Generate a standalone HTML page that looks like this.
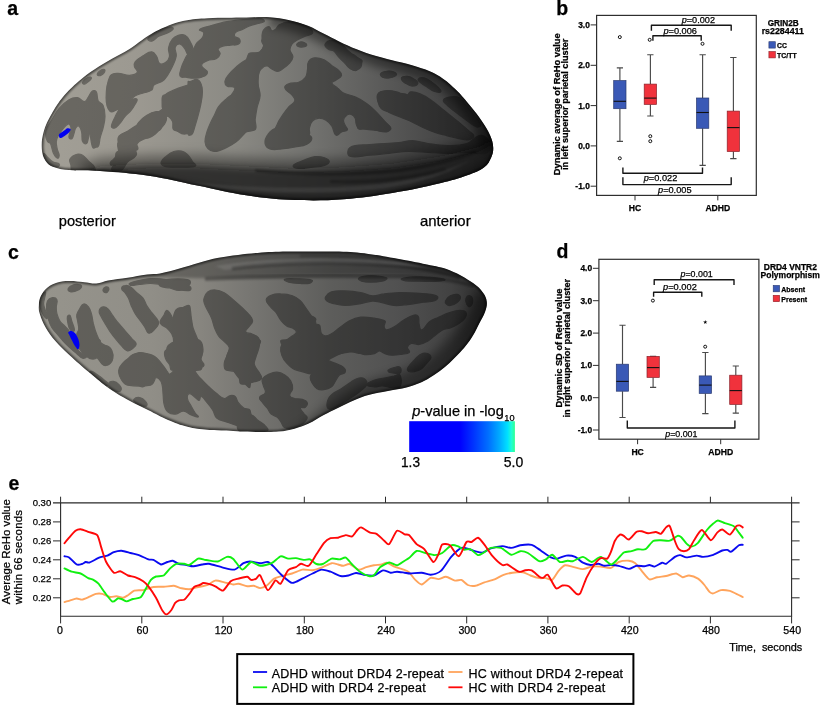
<!DOCTYPE html><html><head><meta charset="utf-8"><title>Figure</title>
<style>html,body{margin:0;padding:0;background:#fff}svg{display:block}text{font-family:"Liberation Sans", Arial, Helvetica, sans-serif;fill:#000;stroke:#000;stroke-width:0.25px}</style></head><body>
<svg width="821" height="707" viewBox="0 0 821 707">
<rect width="821" height="707" fill="#fff"/>
<defs>

<linearGradient id="cbar" x1="0" x2="1" y1="0" y2="0">
<stop offset="0" stop-color="#0000ff"/><stop offset="0.48" stop-color="#0000ff"/><stop offset="0.6" stop-color="#0030ff"/><stop offset="0.75" stop-color="#0070ff"/><stop offset="0.85" stop-color="#00a8ff"/><stop offset="0.93" stop-color="#00e0ff"/><stop offset="0.97" stop-color="#20ffd0"/><stop offset="1" stop-color="#30ff90"/>
</linearGradient>
<linearGradient id="gA" gradientUnits="userSpaceOnUse" x1="45" y1="0" x2="495" y2="0">
<stop offset="0" stop-color="#a29f96"/><stop offset="0.2" stop-color="#9c9991"/><stop offset="0.42" stop-color="#8b8a84"/><stop offset="0.6" stop-color="#71716e"/><stop offset="0.75" stop-color="#5a5a59"/><stop offset="0.88" stop-color="#464646"/><stop offset="1" stop-color="#2e2e2e"/>
</linearGradient>
<linearGradient id="gC" gradientUnits="userSpaceOnUse" x1="40" y1="0" x2="487" y2="0">
<stop offset="0" stop-color="#96948c"/><stop offset="0.25" stop-color="#908e87"/><stop offset="0.36" stop-color="#87857f"/><stop offset="0.47" stop-color="#777672"/><stop offset="0.65" stop-color="#5d5d5b"/><stop offset="0.8" stop-color="#515151"/><stop offset="0.92" stop-color="#424242"/><stop offset="1" stop-color="#292929"/>
</linearGradient>
<filter id="bl3" x="-20%" y="-20%" width="140%" height="140%"><feGaussianBlur stdDeviation="3"/></filter>
<filter id="bl6" x="-20%" y="-20%" width="140%" height="140%"><feGaussianBlur stdDeviation="6"/></filter>
<filter id="bl5" x="-20%" y="-20%" width="140%" height="140%"><feGaussianBlur stdDeviation="5"/></filter>
<filter id="bl1" x="-20%" y="-20%" width="140%" height="140%"><feGaussianBlur stdDeviation="0.8"/></filter>
<filter id="bl2" x="-20%" y="-20%" width="140%" height="140%"><feGaussianBlur stdDeviation="1.6"/></filter>

</defs>
<clipPath id="clipA"><path d="M41.8,149.0C41.4,142.5 41.9,138.3 43.6,132.0C45.6,124.9 47.8,120.7 51.4,114.3C55.3,107.3 58.0,103.0 63.1,96.8C68.4,90.3 72.4,86.7 78.7,81.2C84.3,76.3 88.2,73.6 94.3,69.5C100.8,65.1 105.1,62.7 111.9,58.8C118.5,54.9 123.0,53.1 129.5,49.0C137.2,44.2 141.2,40.0 149.0,35.3C156.1,31.0 160.9,28.8 168.5,25.6C174.2,23.2 177.9,21.9 184.0,20.7C192.8,19.0 198.5,18.7 207.5,18.2C222.3,17.4 231.6,17.6 246.4,17.4C255.4,17.3 261.0,16.6 270.0,17.2C277.1,17.6 281.6,18.4 288.5,20.0C296.0,21.7 300.8,23.0 308.0,25.8C314.1,28.2 317.6,30.6 323.5,33.6C329.4,36.6 333.1,38.6 339.1,41.4C345.7,44.5 349.9,46.5 356.7,49.2C364.0,52.1 368.7,53.8 376.2,56.0C391.9,60.6 402.2,62.1 417.8,67.0C425.6,69.5 430.6,71.1 437.7,75.3C445.0,79.6 449.1,83.2 455.2,89.0C461.7,95.1 465.1,99.6 470.8,106.5C475.5,112.2 478.4,115.9 482.5,122.1C485.8,127.1 488.0,130.3 490.3,135.8C492.1,140.0 493.0,142.9 493.2,147.4C493.4,151.2 492.8,153.7 491.3,157.2C489.5,161.3 488.1,164.2 484.5,167.0C479.0,171.2 474.5,172.6 468.0,175.0C458.0,178.7 451.4,180.5 441.0,183.0C422.6,187.4 410.9,189.9 392.3,193.0C373.9,196.1 362.2,197.9 343.6,199.2C325.2,200.5 313.5,200.7 295.0,200.0C276.3,199.3 264.5,198.0 246.0,195.3C227.4,192.6 215.9,189.3 197.4,185.6C178.9,181.9 167.4,178.6 148.7,175.8C130.3,173.0 118.5,172.3 100.0,171.0C88.2,170.1 80.7,171.0 69.0,170.0C63.0,169.5 59.0,169.2 53.4,167.0C49.9,165.7 47.6,164.1 45.6,161.0C43.0,157.0 42.1,153.8 41.8,149.0Z"/></clipPath><clipPath id="clipC"><path d="M38.8,305.9C39.0,302.2 39.1,299.6 40.7,296.2C42.5,292.4 44.2,290.1 47.5,287.4C50.7,284.7 53.3,283.7 57.3,282.5C61.6,281.2 64.5,281.0 69.0,281.0C74.9,280.9 78.7,281.7 84.6,282.2C89.1,282.6 91.8,283.8 96.3,283.5C100.9,283.2 103.5,281.4 108.0,280.6C115.4,279.2 120.1,278.9 127.5,277.7C134.9,276.5 139.5,275.4 147.0,274.4C151.9,273.8 155.1,274.3 160.0,273.4C167.5,272.0 172.1,270.5 179.5,268.5C187.0,266.5 191.5,264.7 199.0,262.7C206.4,260.7 211.0,259.3 218.5,257.8C225.8,256.3 230.6,255.8 238.0,254.9C245.4,254.0 250.0,253.4 257.4,252.9C268.5,252.1 275.6,251.9 286.7,251.6C295.6,251.4 301.1,251.6 310.0,251.6C321.1,251.6 328.1,251.2 339.2,251.6C350.4,252.0 357.4,252.5 368.5,253.9C379.7,255.3 386.6,256.8 397.7,258.8C408.9,260.8 415.9,262.1 427.0,264.6C435.9,266.6 441.8,267.1 450.3,270.5C459.6,274.3 465.2,277.6 473.5,283.3C477.8,286.3 480.2,288.7 483.3,293.0C485.4,295.9 486.4,298.2 486.8,301.8C487.2,305.5 486.4,308.0 485.2,311.5C483.6,316.2 481.6,318.8 479.4,323.2C477.0,327.9 475.7,331.0 473.0,335.5C470.6,339.5 468.9,341.9 466.0,345.5C463.2,349.1 461.2,351.2 458.0,354.5C453.7,358.9 451.0,361.7 446.4,365.8C443.0,368.8 440.7,370.4 437.0,373.0C433.3,375.6 431.0,377.2 427.0,379.4C423.3,381.4 420.9,382.5 417.0,384.0C413.4,385.4 411.1,386.3 407.4,387.2C400.1,389.0 395.4,389.5 388.0,391.0C380.6,392.5 375.8,393.0 368.5,395.0C363.2,396.4 359.9,397.8 354.8,400.0C348.1,402.9 344.0,405.0 337.4,408.2C332.2,410.7 328.9,412.3 323.8,415.0C317.8,418.2 314.4,420.9 308.2,423.8C303.2,426.1 299.9,427.3 294.6,428.7C288.8,430.3 285.0,431.0 279.0,431.6C271.6,432.3 266.9,432.0 259.5,432.0C252.1,432.0 247.4,431.9 240.0,431.6C234.8,431.4 231.6,430.9 226.4,430.6C219.0,430.2 214.3,430.4 207.0,429.7C199.5,429.0 194.7,428.5 187.4,426.7C179.8,424.8 175.2,423.0 168.0,419.9C160.4,416.7 155.9,413.9 148.5,410.2C141.1,406.5 136.3,404.4 129.0,400.4C121.4,396.2 116.6,393.7 109.5,388.7C101.7,383.3 97.3,379.2 90.0,373.1C81.9,366.3 76.8,361.9 69.0,354.7C63.6,349.7 60.1,346.6 55.3,341.0C51.2,336.2 48.7,332.9 45.6,327.4C42.8,322.5 41.4,319.1 39.7,313.7C38.8,310.9 38.6,308.9 38.8,305.9Z"/></clipPath>
<g clip-path="url(#clipA)">
<path d="M41.8,149.0C41.4,142.5 41.9,138.3 43.6,132.0C45.6,124.9 47.8,120.7 51.4,114.3C55.3,107.3 58.0,103.0 63.1,96.8C68.4,90.3 72.4,86.7 78.7,81.2C84.3,76.3 88.2,73.6 94.3,69.5C100.8,65.1 105.1,62.7 111.9,58.8C118.5,54.9 123.0,53.1 129.5,49.0C137.2,44.2 141.2,40.0 149.0,35.3C156.1,31.0 160.9,28.8 168.5,25.6C174.2,23.2 177.9,21.9 184.0,20.7C192.8,19.0 198.5,18.7 207.5,18.2C222.3,17.4 231.6,17.6 246.4,17.4C255.4,17.3 261.0,16.6 270.0,17.2C277.1,17.6 281.6,18.4 288.5,20.0C296.0,21.7 300.8,23.0 308.0,25.8C314.1,28.2 317.6,30.6 323.5,33.6C329.4,36.6 333.1,38.6 339.1,41.4C345.7,44.5 349.9,46.5 356.7,49.2C364.0,52.1 368.7,53.8 376.2,56.0C391.9,60.6 402.2,62.1 417.8,67.0C425.6,69.5 430.6,71.1 437.7,75.3C445.0,79.6 449.1,83.2 455.2,89.0C461.7,95.1 465.1,99.6 470.8,106.5C475.5,112.2 478.4,115.9 482.5,122.1C485.8,127.1 488.0,130.3 490.3,135.8C492.1,140.0 493.0,142.9 493.2,147.4C493.4,151.2 492.8,153.7 491.3,157.2C489.5,161.3 488.1,164.2 484.5,167.0C479.0,171.2 474.5,172.6 468.0,175.0C458.0,178.7 451.4,180.5 441.0,183.0C422.6,187.4 410.9,189.9 392.3,193.0C373.9,196.1 362.2,197.9 343.6,199.2C325.2,200.5 313.5,200.7 295.0,200.0C276.3,199.3 264.5,198.0 246.0,195.3C227.4,192.6 215.9,189.3 197.4,185.6C178.9,181.9 167.4,178.6 148.7,175.8C130.3,173.0 118.5,172.3 100.0,171.0C88.2,170.1 80.7,171.0 69.0,170.0C63.0,169.5 59.0,169.2 53.4,167.0C49.9,165.7 47.6,164.1 45.6,161.0C43.0,157.0 42.1,153.8 41.8,149.0Z" fill="url(#gA)"/>
<g fill="#000" stroke="#000" stroke-width="1.2" stroke-linejoin="round" opacity="0.345">
<path d="M50.5,122.1C53.6,117.2 55.3,113.2 59.2,108.5C62.4,104.6 64.7,102.2 69.0,99.7C71.9,98.0 74.4,97.3 77.7,97.7C80.7,98.1 81.7,101.9 84.6,101.6C86.9,101.4 87.1,98.7 88.5,96.8C90.0,94.6 90.3,92.2 92.4,90.9C93.7,90.1 95.5,90.6 96.3,91.9C97.8,94.5 96.7,97.6 98.2,100.7C99.4,103.0 102.0,103.1 103.1,105.5C104.7,109.3 105.0,112.1 105.0,116.3C105.0,120.8 104.1,123.6 103.1,128.0C102.2,131.7 101.1,134.0 100.2,137.7C99.3,141.0 99.8,144.4 98.2,146.5C97.3,147.7 94.9,146.9 94.3,145.5C93.0,142.6 94.4,139.3 93.3,135.8C92.8,134.0 91.7,131.3 90.4,131.9C89.1,132.4 89.2,135.5 88.5,137.7C87.7,139.9 88.1,142.5 86.5,143.5C85.1,144.5 83.3,143.1 82.6,141.6C81.3,138.5 82.5,135.5 81.6,131.9C81.0,129.4 80.3,127.0 78.7,126.0C77.6,125.3 76.5,126.8 75.8,128.0C74.6,129.9 74.7,131.6 73.9,133.8C73.2,135.7 73.2,137.6 71.9,138.7C71.0,139.4 69.3,138.8 69.0,137.7C68.5,135.9 69.6,134.1 70.0,131.9C70.3,130.0 71.4,128.8 70.9,127.0C70.5,125.5 69.5,123.6 68.0,124.1C65.7,124.8 64.2,127.5 62.2,129.9C60.4,132.0 59.5,133.4 58.3,135.8C57.2,137.8 56.5,139.3 56.3,141.6C56.1,144.6 56.7,146.5 57.3,149.4C57.8,151.7 59.2,152.9 59.2,155.2C59.2,156.6 58.6,158.6 57.3,158.2C55.7,157.6 54.4,155.4 53.4,153.3C51.8,149.8 52.0,146.7 50.5,143.5C49.9,142.4 48.1,142.8 47.5,141.6C46.2,139.0 45.6,136.9 45.6,133.8C45.6,131.1 46.5,129.5 47.5,127.0C48.4,125.0 49.3,123.9 50.5,122.1Z"/>
<path d="M82.6,82.2C83.9,80.3 86.1,78.3 88.5,77.3C89.5,76.8 91.8,77.1 91.4,78.3C90.9,79.8 88.6,81.6 86.5,83.1C85.6,83.8 84.6,84.4 83.6,84.1C82.8,83.9 82.1,82.8 82.6,82.2Z"/>
<path d="M97.2,74.4C97.5,72.8 100.0,70.5 102.1,69.5C103.2,69.0 105.2,69.3 105.0,70.5C104.8,72.0 103.2,74.3 101.1,75.3C99.8,76.0 97.0,75.9 97.2,74.4Z"/>
<path d="M70.0,159.1C71.5,156.3 73.7,155.2 76.8,154.3C78.9,153.6 80.7,154.1 82.6,155.2C85.3,156.8 86.2,158.9 88.5,161.1C90.7,163.3 92.8,164.2 94.3,166.9C95.2,168.6 96.1,171.4 94.3,171.8C88.6,173.1 79.1,173.6 72.9,171.8C70.3,171.1 71.5,167.6 70.9,165.0C70.4,162.8 68.9,161.1 70.0,159.1Z"/>
<path d="M43.6,153.3C44.4,152.8 46.0,155.8 47.5,157.2C49.7,159.1 50.9,160.6 53.4,162.1C55.4,163.2 58.2,162.7 59.2,164.0C60.1,165.1 58.6,166.8 57.3,166.9C54.7,167.2 52.1,166.6 49.5,165.0C47.0,163.5 45.9,161.7 44.6,159.1C43.6,157.1 42.9,153.8 43.6,153.3Z"/>
<path d="M139.1,124.1C143.5,121.7 146.2,120.0 150.8,118.2C155.1,116.6 158.4,115.5 162.5,115.3C164.2,115.2 166.1,115.6 166.4,117.2C166.9,119.6 166.0,121.8 164.5,124.1C162.2,127.5 160.0,129.3 156.7,131.9C153.3,134.5 150.7,135.6 146.9,137.7C144.0,139.3 141.7,139.5 139.1,141.6C137.1,143.3 135.8,144.8 135.2,147.4C134.6,150.4 137.6,152.6 136.2,155.2C134.2,159.0 130.4,159.1 127.4,162.1C124.8,164.7 124.9,168.3 121.6,170.1C118.3,171.7 113.4,172.2 111.9,170.1C110.3,167.9 114.5,165.2 115.8,162.1C117.1,158.8 118.3,156.8 118.7,153.3C119.1,149.6 117.1,147.2 117.7,143.5C118.2,140.3 119.4,138.3 121.6,135.8C124.0,132.9 126.3,132.0 129.4,129.9C133.0,127.5 135.3,126.1 139.1,124.1Z"/>
<path d="M148.0,38.3C149.8,35.4 154.3,32.9 158.7,30.5C162.2,28.6 164.6,27.7 168.5,27.2C170.4,26.9 173.3,27.1 173.3,28.5C173.3,29.9 170.6,31.3 168.5,32.4C164.9,34.3 162.2,34.4 158.7,36.3C155.9,37.8 154.8,40.7 151.9,41.2C150.1,41.5 147.0,39.8 148.0,38.3Z"/>
<path d="M135.3,61.6C137.7,58.8 139.9,57.7 143.1,55.8C146.3,54.0 148.3,51.6 151.9,51.9C154.5,52.1 155.3,54.6 156.8,56.8C158.3,59.1 157.4,62.0 159.7,63.6C161.6,64.8 163.7,63.9 165.5,62.6C167.7,61.1 168.9,59.4 169.4,56.8C170.1,53.5 167.9,51.3 168.5,48.0C169.1,44.4 170.1,42.1 172.4,39.2C174.0,37.1 175.7,36.1 178.2,35.3C180.7,34.6 182.7,34.2 185.0,35.3C187.6,36.6 188.5,38.6 189.9,41.2C191.6,44.3 193.3,46.6 192.8,50.0C192.5,52.3 190.0,54.1 188.0,53.9C185.9,53.6 186.4,50.7 185.0,49.0C183.4,46.9 182.7,44.6 180.2,44.1C178.0,43.7 176.0,45.0 175.3,47.0C174.2,50.1 176.8,52.5 176.3,55.8C175.6,60.1 174.1,62.6 172.4,66.5C170.8,70.0 169.6,72.1 167.5,75.3C165.9,77.7 165.0,79.5 162.6,81.1C159.7,83.3 156.7,82.7 153.9,85.0C152.3,86.3 153.5,88.7 151.9,89.9C149.4,91.9 147.1,91.8 144.1,92.8C140.8,94.0 138.3,93.9 135.3,95.8C132.6,97.4 131.5,99.2 129.5,101.6C127.8,103.7 127.8,106.0 125.6,107.4C123.1,109.1 120.8,108.7 117.8,109.4C114.8,110.1 112.2,113.5 110.0,111.3C106.9,108.2 106.1,103.1 106.1,97.7C106.1,89.4 106.9,82.8 110.0,76.3C111.4,73.4 114.6,73.5 117.8,73.3C122.3,73.1 125.0,75.5 129.5,75.3C132.6,75.1 136.0,74.7 137.3,72.4C138.5,70.2 134.8,69.0 134.4,66.5C134.0,64.7 134.1,63.1 135.3,61.6Z"/>
<path d="M199.7,29.5C201.7,27.7 206.8,26.9 211.3,25.6C217.2,23.9 220.9,22.8 226.9,21.7C234.3,20.4 239.0,20.0 246.4,19.4C252.3,18.9 257.3,18.1 262.0,18.8C263.3,18.9 265.1,21.0 264.0,21.7C260.8,23.5 255.4,23.7 250.3,25.6C247.2,26.7 245.5,28.1 242.5,29.5C240.0,30.7 237.8,30.6 235.7,32.4C234.6,33.4 234.0,35.0 234.7,36.3C235.8,38.1 238.6,37.3 239.6,39.2C240.4,40.9 240.2,43.1 238.6,44.1C236.3,45.7 233.8,44.7 230.8,45.1C227.9,45.5 225.9,45.2 223.0,46.1C221.0,46.7 218.9,47.0 218.2,49.0C217.5,50.8 220.5,51.9 220.1,53.9C219.6,56.2 218.3,57.6 216.2,58.7C213.2,60.3 210.5,59.2 207.4,60.7C204.8,61.9 201.6,62.7 201.6,65.5C201.6,68.7 207.4,69.2 207.4,72.4C207.4,75.3 204.3,76.1 201.6,77.2C198.9,78.4 196.8,78.2 193.8,78.2C190.8,78.2 189.0,77.7 186.0,77.2C183.8,76.9 181.3,78.2 180.2,76.3C178.9,73.9 180.4,71.4 181.1,68.5C181.9,65.4 182.7,63.5 184.1,60.7C185.3,58.0 186.1,56.2 188.0,53.9C189.5,52.0 191.3,51.8 192.8,50.0C194.7,47.6 194.9,45.5 196.7,43.1C198.6,40.6 200.9,39.9 202.6,37.3C203.6,35.7 204.2,34.2 203.5,32.4C202.9,30.7 198.3,30.7 199.7,29.5Z"/>
<path d="M164.6,95.8C166.1,92.6 170.4,91.7 174.3,89.9C179.3,87.6 182.7,86.8 188.0,85.0C191.6,83.8 194.3,81.3 197.7,82.1C200.1,82.7 200.0,85.5 200.6,88.0C201.5,91.6 202.0,94.0 201.6,97.7C201.2,101.5 199.9,103.8 198.7,107.4C197.7,110.4 196.7,112.2 195.8,115.2C194.8,118.2 194.6,120.1 193.8,123.0C193.1,125.7 194.5,129.1 191.9,130.1C186.7,131.9 179.5,132.4 174.3,130.1C171.1,128.6 174.1,124.1 172.4,121.1C170.9,118.6 169.1,115.7 166.5,116.2C163.9,116.7 163.9,120.4 162.6,123.0C161.3,125.6 162.3,128.9 159.7,130.1C155.5,131.9 149.4,132.4 147.0,130.1C144.7,127.7 149.1,124.3 150.9,121.1C152.8,117.9 154.2,115.9 156.8,113.3C159.4,110.7 162.0,110.1 164.6,107.4C166.5,105.6 168.5,104.3 168.5,101.6C168.5,98.9 163.4,98.1 164.6,95.8Z"/>
<path d="M264.0,29.5C265.5,27.6 268.7,25.5 270.0,27.5C272.6,31.7 273.7,38.3 273.7,45.1C273.7,52.6 272.6,58.9 270.0,64.6C269.0,66.8 265.9,65.1 264.0,66.5C261.6,68.2 260.0,69.6 259.1,72.4C257.7,76.6 257.9,79.6 258.1,84.1C258.3,88.6 260.3,91.3 260.1,95.8C259.9,100.3 258.1,103.0 257.1,107.4C256.2,111.9 255.8,114.7 255.2,119.1C254.7,123.3 258.2,129.0 254.2,130.1C243.6,133.0 224.9,133.0 215.2,130.1C211.1,128.8 216.5,123.1 218.2,119.1C220.2,114.4 222.5,112.0 225.0,107.4C227.4,103.1 228.6,100.2 230.8,95.8C232.3,92.8 235.8,90.6 234.7,88.0C233.7,85.4 229.4,87.8 226.9,86.0C225.3,84.9 224.7,83.1 225.0,81.1C225.5,78.2 227.0,76.6 228.9,74.3C231.5,71.0 233.5,69.3 236.7,66.5C239.5,64.1 241.3,62.6 244.5,60.7C247.3,58.9 249.4,58.4 252.3,56.8C255.3,55.1 257.6,54.4 260.1,51.9C262.2,49.8 263.6,48.0 264.0,45.1C264.4,42.1 262.0,40.3 262.0,37.3C262.0,34.2 262.0,31.9 264.0,29.5Z"/>
<path d="M250.0,53.0C253.1,52.2 256.4,53.7 259.7,52.0C262.1,50.8 263.2,48.8 263.6,46.2C264.0,43.9 261.3,42.7 261.7,40.3C262.1,37.4 263.2,35.4 265.6,33.5C268.7,31.1 272.0,31.8 275.3,29.6C277.3,28.3 277.2,25.9 279.2,24.7C282.6,22.8 285.1,22.0 289.0,21.8C293.5,21.6 296.4,22.4 300.7,23.8C304.6,25.0 307.3,26.0 310.4,28.6C311.9,29.9 313.6,31.9 312.4,33.5C310.8,35.6 307.5,35.2 304.6,36.4C301.5,37.8 299.6,38.6 296.8,40.3C294.8,41.6 293.3,42.3 291.9,44.2C290.6,46.2 289.8,47.7 290.0,50.1C290.2,52.9 293.1,54.1 292.9,56.9C292.7,59.9 290.9,61.4 289.0,63.7C287.1,65.9 285.5,67.0 283.1,68.6C281.1,70.0 279.8,71.5 277.3,71.5C274.8,71.5 273.6,69.8 271.4,68.6C268.8,67.2 267.6,64.4 264.6,64.7C262.0,64.9 260.7,67.1 259.7,69.6C258.0,73.7 258.0,76.8 257.8,81.3C257.6,85.7 259.1,88.5 258.8,93.0C258.4,97.5 257.0,100.2 255.8,104.7C254.7,109.1 254.1,111.9 252.9,116.3C251.9,120.1 252.1,124.0 250.0,126.1C248.6,127.5 245.5,126.1 245.1,124.1C243.6,115.3 244.2,104.8 244.2,93.0C244.2,82.6 244.1,75.8 245.1,65.7C245.6,61.5 246.8,58.3 248.1,55.0C248.4,54.0 249.0,53.3 250.0,53.0Z"/>
<path d="M296.8,44.2C297.6,43.1 299.0,42.1 300.7,41.9C302.6,41.7 304.0,42.2 305.5,43.3C306.4,43.8 307.2,45.1 306.5,45.8C305.5,46.8 303.6,47.1 301.6,47.2C300.1,47.2 299.0,47.0 297.7,46.2C297.0,45.8 296.3,44.9 296.8,44.2Z"/>
<path d="M325.0,44.2C326.1,41.9 328.9,40.3 331.9,40.3C335.8,40.3 338.2,42.1 341.6,44.2C344.3,45.9 345.1,47.9 347.4,50.1C350.3,52.8 352.1,54.6 355.2,56.9C357.7,58.7 361.0,58.5 362.1,60.8C362.9,62.8 360.3,63.8 359.1,65.7C358.0,67.5 358.3,70.1 356.2,70.5C353.6,71.1 351.7,69.2 349.4,67.6C346.8,65.8 345.8,64.0 343.5,61.8C341.3,59.6 339.8,58.3 337.7,55.9C336.1,54.2 335.7,52.4 333.8,51.1C331.9,49.7 329.8,50.5 328.0,49.1C326.3,47.8 324.2,46.2 325.0,44.2Z"/>
<path d="M380.6,73.5C381.6,72.0 384.1,71.7 386.4,71.5C389.4,71.3 391.9,71.5 394.2,72.5C395.3,73.0 396.1,74.6 395.2,75.4C393.6,76.8 391.1,77.4 388.4,77.8C386.1,78.0 384.5,78.1 382.5,77.0C381.2,76.2 379.7,74.7 380.6,73.5Z"/>
<path d="M402.0,77.4C403.6,76.6 407.9,77.8 410.0,79.3C411.2,80.2 411.3,82.6 410.0,83.2C408.4,84.0 405.8,83.6 404.0,82.2C402.4,81.1 400.4,78.1 402.0,77.4Z"/>
<path d="M308.5,61.8C309.8,59.5 311.7,58.2 314.3,57.9C318.1,57.4 320.6,58.3 324.1,59.8C327.4,61.3 328.9,63.5 331.9,65.7C334.4,67.6 336.4,68.3 338.7,70.5C340.2,72.1 342.2,73.3 341.6,75.4C340.8,78.0 338.0,78.5 335.8,80.3C334.3,81.4 331.4,81.4 331.9,83.2C332.4,85.3 335.5,86.2 337.7,88.1C339.9,89.9 341.0,91.7 343.5,93.0C347.7,95.1 351.0,94.9 355.2,96.9C359.9,99.0 362.8,100.7 366.9,103.7C371.0,106.6 373.2,108.9 376.7,112.4C379.8,115.6 381.5,117.9 384.5,121.2C386.7,123.8 389.8,125.2 390.3,128.0C390.7,130.1 388.5,131.7 386.4,131.9C382.3,132.5 379.2,130.8 374.7,130.0C371.0,129.3 368.8,128.3 365.0,128.0C362.7,127.9 361.2,129.9 359.1,129.0C357.2,128.1 357.0,126.2 356.2,124.1C355.4,122.0 356.2,120.3 355.2,118.3C354.3,116.4 353.3,115.1 351.3,114.4C349.6,113.8 348.0,114.2 346.5,115.4C344.7,116.7 343.7,118.1 343.5,120.2C343.3,122.6 344.6,123.9 345.5,126.1C346.1,127.6 348.4,128.6 347.4,130.0C346.4,131.5 343.7,131.0 341.6,131.9C339.3,132.9 337.9,136.4 335.8,135.1C333.2,133.5 333.9,129.2 331.9,126.1C330.1,123.5 328.7,121.8 326.0,120.2C323.4,118.7 321.3,118.1 318.2,118.3C315.7,118.5 314.0,119.4 312.4,121.2C310.5,123.3 310.2,125.3 309.4,128.0C308.7,130.6 311.1,134.5 308.5,135.1C299.4,136.9 283.7,138.0 275.3,135.1C271.4,133.7 275.8,128.1 277.3,124.1C278.8,120.1 280.7,118.0 283.1,114.4C285.2,111.3 286.6,109.4 289.0,106.6C291.0,104.2 294.1,103.8 294.8,100.8C295.4,98.3 293.5,96.8 291.9,94.9C290.1,92.7 287.8,92.3 286.1,90.0C285.1,88.8 284.2,87.4 285.1,86.1C286.4,84.3 288.5,83.9 290.9,83.2C293.8,82.4 296.0,83.3 298.7,82.2C301.7,81.1 303.7,80.0 305.5,77.4C307.3,74.9 306.9,72.6 307.5,69.6C308.0,66.6 307.0,64.4 308.5,61.8Z"/>
<path d="M378.6,93.0C380.7,90.7 383.4,91.0 386.4,91.0C390.9,91.0 393.7,91.9 398.1,93.0C402.7,94.1 408.0,92.6 410.0,96.9C413.2,103.6 412.1,113.1 410.0,118.3C408.8,121.2 405.0,117.3 402.0,116.3C398.2,115.1 395.8,114.2 392.3,112.4C388.4,110.5 385.9,109.3 382.5,106.6C380.3,104.8 378.4,103.5 377.7,100.8C376.8,97.9 376.6,95.2 378.6,93.0Z"/>
<path d="M378.3,94.8C379.8,92.2 382.1,91.4 385.1,90.9C389.5,90.2 392.4,90.9 396.8,91.9C400.7,92.8 402.9,95.8 406.5,95.8C408.6,95.8 408.3,92.2 410.4,91.9C414.1,91.4 416.7,92.4 420.2,93.9C424.9,95.8 427.6,97.8 431.9,100.7C435.8,103.3 437.9,105.5 441.6,108.5C445.3,111.4 447.6,113.3 451.3,116.3C455.0,119.2 457.4,121.0 461.1,124.1C464.1,126.6 466.0,128.2 468.9,130.9C470.8,132.7 473.8,133.4 473.8,135.8C473.8,138.1 471.2,139.2 468.9,139.7C465.2,140.4 462.8,139.3 459.1,138.7C454.6,137.9 451.9,136.9 447.4,135.8C443.0,134.6 440.1,134.3 435.8,132.8C431.2,131.3 428.4,130.0 424.1,128.0C419.5,125.9 416.9,124.2 412.4,122.1C408.0,120.1 405.1,119.1 400.7,117.2C396.2,115.4 393.4,114.3 389.0,112.4C386.0,111.0 383.6,110.7 381.2,108.5C379.3,106.8 378.8,105.1 378.3,102.6C377.6,99.7 376.8,97.4 378.3,94.8Z"/>
<path d="M357.8,101.1C360.6,99.0 364.0,104.1 367.5,106.5C371.5,109.2 373.7,111.2 377.3,114.3C380.4,117.1 382.2,119.0 385.1,122.1C387.4,124.6 391.4,126.6 390.9,128.9C390.4,131.3 386.2,130.7 383.1,130.9C379.4,131.1 377.1,130.2 373.4,129.9C368.9,129.5 365.9,129.5 361.7,128.9C360.2,128.7 358.3,129.4 357.8,128.0C356.5,124.1 357.0,119.5 357.0,114.3C357.0,109.3 355.0,103.1 357.8,101.1Z"/>
<path d="M381.2,74.4C382.2,72.8 384.6,71.9 387.0,71.4C389.6,71.0 391.4,71.1 393.9,72.0C395.2,72.5 397.2,73.7 396.4,74.9C395.3,76.5 392.6,77.2 390.0,77.7C387.4,78.1 385.5,78.2 383.1,77.3C381.9,76.8 380.4,75.5 381.2,74.4Z"/>
<path d="M401.6,78.3C402.2,76.4 405.2,76.1 407.5,76.3C410.3,76.5 412.0,77.6 414.3,79.2C416.0,80.4 418.3,81.7 417.8,83.5C417.3,85.3 414.7,86.1 412.4,86.1C409.5,86.0 407.8,84.8 405.5,83.1C403.6,81.7 401.1,80.1 401.6,78.3Z"/>
<path d="M418.2,79.2C419.0,77.8 421.8,77.4 424.1,77.9C427.4,78.6 429.1,80.2 431.9,82.2C434.7,84.1 436.4,85.5 438.7,88.0C439.8,89.2 441.9,91.0 440.6,91.9C439.3,92.8 436.3,92.2 433.8,91.3C430.9,90.3 429.6,88.7 427.0,87.0C424.7,85.6 423.1,84.9 421.1,83.1C419.8,81.9 417.4,80.6 418.2,79.2Z"/>
<path d="M443.5,99.7C444.8,97.6 448.2,97.2 451.3,96.8C454.3,96.4 456.6,96.2 459.1,97.7C462.9,100.1 464.1,103.1 466.9,106.5C470.0,110.1 471.9,112.4 474.7,116.3C477.1,119.5 480.1,122.2 480.6,125.0C480.9,126.7 478.3,127.4 476.7,127.0C473.6,126.2 471.8,124.1 468.9,122.1C465.8,120.0 464.1,118.5 461.1,116.3C458.1,114.0 456.2,112.7 453.3,110.4C450.6,108.3 448.8,107.1 446.5,104.6C445.0,103.0 442.4,101.5 443.5,99.7Z"/>
<path d="M350.0,53.9C353.1,52.9 355.3,55.7 357.8,57.8C359.8,59.5 361.7,61.0 361.7,63.6C361.7,66.3 360.3,68.5 357.8,69.5C355.0,70.6 352.5,70.2 350.0,68.5C347.5,66.9 346.1,64.7 346.1,61.7C346.1,58.4 346.9,54.9 350.0,53.9Z"/>
<path d="M350.0,147.4C355.2,144.3 362.0,145.3 369.5,144.5C380.6,143.4 387.6,143.6 398.7,142.6C403.9,142.1 407.1,140.5 412.4,140.6C418.4,140.8 422.0,142.7 428.0,143.5C435.3,144.6 440.0,145.5 447.4,145.5C454.9,145.5 459.8,145.8 466.9,143.5C472.0,142.0 473.5,137.3 478.6,135.8C481.6,134.9 484.3,135.5 486.4,137.7C489.2,140.5 490.8,143.5 490.3,147.4C489.9,150.6 487.6,152.7 484.5,153.3C478.2,154.6 473.6,152.3 466.9,152.3C459.5,152.3 454.9,153.3 447.4,153.3C440.0,153.3 435.4,152.7 428.0,152.3C420.6,151.9 415.9,151.2 408.5,151.3C401.0,151.5 396.4,152.6 389.0,153.3C381.6,154.0 376.9,154.7 369.5,155.2C362.1,155.8 355.2,158.3 350.0,156.2C346.9,155.0 347.1,149.2 350.0,147.4Z"/>
<path d="M90.0,95.0C91.4,92.7 94.1,96.8 95.8,98.9C98.0,101.4 98.5,103.6 99.7,106.7C101.5,111.0 103.2,113.7 103.6,118.4C104.0,122.1 102.9,124.5 101.7,128.1C100.6,131.3 98.7,132.7 97.8,135.9C96.8,139.5 98.1,142.6 96.8,145.7C96.2,147.2 93.8,149.1 92.9,147.6C91.1,144.5 91.1,139.2 90.0,134.0C88.5,126.6 86.1,122.0 86.1,114.5C86.1,106.9 87.4,99.2 90.0,95.0Z"/>
<path d="M111.4,126.2C111.7,123.1 113.6,120.0 115.3,116.4C117.3,112.6 118.3,109.9 121.2,106.7C123.6,103.9 125.7,102.5 129.0,100.8C131.7,99.5 135.2,97.9 136.8,98.9C138.3,99.9 135.9,102.6 134.8,104.7C133.6,107.1 132.6,108.5 130.9,110.6C128.9,113.0 127.1,114.1 125.1,116.4C122.7,119.2 121.7,121.5 119.2,124.2C117.6,126.0 116.4,127.6 114.4,128.1C113.1,128.5 111.3,127.5 111.4,126.2Z"/>
<path d="M138.7,122.3C141.3,119.3 143.2,117.5 146.5,115.5C149.9,113.4 152.3,112.1 156.3,111.6C158.6,111.3 160.7,111.7 162.1,113.5C163.7,115.6 163.4,117.7 163.1,120.3C162.7,123.5 161.7,125.4 160.2,128.1C158.7,130.6 157.5,132.1 155.3,134.0C153.0,135.9 151.3,136.9 148.5,137.9C145.6,138.8 143.3,137.5 140.7,138.9C138.6,139.9 137.4,141.4 136.8,143.7C136.2,145.9 139.3,148.0 137.7,149.6C135.7,151.6 131.8,149.6 129.0,151.5C126.9,152.9 127.7,155.5 126.1,157.4C123.9,159.7 122.0,160.7 119.2,162.2C116.4,163.7 113.8,165.2 111.4,165.2C110.3,165.2 109.9,163.3 110.5,162.2C111.5,160.2 114.0,159.6 115.3,157.4C116.3,155.7 115.2,154.0 116.3,152.5C117.6,150.8 119.8,151.2 121.2,149.6C122.2,148.4 122.7,147.1 122.2,145.7C121.4,143.7 118.9,143.8 118.3,141.8C117.6,139.6 117.8,137.7 119.2,135.9C121.1,133.6 123.3,133.1 126.1,132.0C128.9,130.9 131.4,131.9 133.9,130.1C136.6,128.0 136.4,124.9 138.7,122.3Z"/>
<path d="M164.1,95.0C173.9,92.9 190.0,92.9 199.1,95.0C202.1,95.7 198.7,99.9 198.2,102.8C197.5,106.5 197.1,108.9 196.2,112.5C195.3,116.3 194.3,118.6 193.3,122.3C192.5,125.2 193.0,127.5 191.3,130.1C189.9,132.3 188.1,133.6 185.5,134.0C182.8,134.4 180.9,133.5 178.7,132.0C176.3,130.4 174.9,128.8 173.8,126.2C172.6,123.4 174.3,121.0 172.8,118.4C171.8,116.5 169.6,116.8 168.0,115.5C165.9,113.8 164.2,113.0 163.1,110.6C161.8,107.9 161.9,105.8 162.1,102.8C162.3,99.7 161.1,95.6 164.1,95.0Z"/>
<path d="M218.6,106.7C221.1,103.3 223.2,101.6 226.4,98.9C228.5,97.2 229.6,95.4 232.3,95.0C238.6,94.0 246.7,89.1 250.0,95.0C254.7,103.3 251.6,115.8 250.0,126.2C249.4,129.9 246.5,131.2 244.0,134.0C241.2,137.1 239.5,139.2 236.2,141.8C232.8,144.4 230.4,145.8 226.4,147.6C222.2,149.6 219.4,151.3 214.7,151.5C211.9,151.7 209.9,150.6 207.9,148.6C205.9,146.6 205.2,144.6 205.0,141.8C204.8,138.0 205.9,135.6 206.9,132.0C208.1,128.2 209.2,125.9 210.8,122.3C212.2,119.3 213.3,117.5 214.7,114.5C216.2,111.5 216.6,109.3 218.6,106.7Z"/>
<path d="M161.1,162.2C161.7,159.6 163.8,158.3 166.0,156.4C168.7,154.1 170.5,152.6 173.8,151.5C176.6,150.6 178.7,150.5 181.6,151.1C184.1,151.7 185.6,152.7 187.4,154.4C189.8,156.6 190.6,158.6 192.3,161.3C193.5,163.1 197.2,165.3 195.2,166.1C191.3,167.7 184.4,167.1 177.7,167.1C172.5,167.1 168.5,167.4 164.1,166.1C162.3,165.6 160.8,164.1 161.1,162.2Z"/>
<path d="M293.3,165.5C294.3,163.4 299.2,162.2 303.0,160.6C307.4,158.9 310.1,157.4 314.7,156.7C318.4,156.2 320.9,156.5 324.5,157.7C326.7,158.5 329.3,159.5 329.3,161.6C329.3,163.7 326.7,164.8 324.5,165.5C319.5,167.1 316.0,166.8 310.8,167.4C306.4,168.0 303.6,168.9 299.1,168.4C296.7,168.1 292.3,167.6 293.3,165.5Z"/>
<path d="M268.0,134.3C270.1,131.3 272.1,128.8 275.8,128.5C281.8,128.0 285.3,131.2 291.3,132.4C297.2,133.5 301.5,132.8 306.9,134.3C309.2,135.0 311.8,135.8 311.8,138.2C311.8,140.8 309.5,142.7 306.9,144.1C302.9,146.2 299.7,146.1 295.2,147.0C290.1,148.0 286.8,148.5 281.6,148.9C277.2,149.3 274.1,150.4 269.9,148.9C267.2,148.0 265.4,146.0 265.0,143.1C264.6,139.6 265.9,137.1 268.0,134.3Z"/>
<path d="M190.0,81.7C192.6,81.2 195.0,78.4 197.8,79.7C200.8,81.2 201.4,84.2 202.1,87.5C203.0,91.9 202.3,94.8 201.7,99.2C201.0,104.5 200.1,107.7 198.8,112.9C197.5,118.1 196.5,121.4 194.9,126.5C193.9,129.5 193.8,132.2 191.9,134.3C191.0,135.4 188.2,135.8 188.1,134.3C187.0,120.3 187.5,95.7 188.1,81.7C188.1,81.0 189.3,81.8 190.0,81.7Z"/>
</g>
<path d="M100.0,157.5L148.7,155.0L197.4,155.0L246.0,157.5L295.0,160.0L343.6,158.5L392.3,155.0L441.0,147.8L480.0,138.0L492.0,130.7L510.0,140.0L510.0,210.0L80.0,210.0L80.0,165.0 Z" fill="#000" fill-opacity="0.38" filter="url(#bl6)"/>
<path d="M100.0,168.5L148.7,166.0L197.4,166.0L246.0,168.5L295.0,171.0L343.6,169.5L392.3,166.0L441.0,158.8L480.0,149.0L492.0,141.7L500.0,150.0L500.0,210.0L90.0,210.0L90.0,172.0 Z" fill="#1a1a1a" fill-opacity="0.66" filter="url(#bl3)"/>
<path d="M255,169 C300,173 350,173 400,168 C430,164 455,157 475,150 L478,153 C455,161 430,168 400,172 C350,177 300,177 255,172Z" fill="#000" fill-opacity="0.32" filter="url(#bl1)"/>
<path d="M330,180 C370,181 410,177 445,168 L447,171 C410,181 370,185 330,183Z" fill="#000" fill-opacity="0.25" filter="url(#bl1)"/>
<path d="M120,172 C160,176 200,184 250,191 C300,197 360,197 400,191 C440,184 470,172 490,155 L500,160 L500,215 L100,215Z" fill="#000" fill-opacity="0.25" filter="url(#bl3)"/>
<path d="M150,178 C220,186 300,192 380,184 C420,179 450,170 470,160 C450,173 420,184 380,189 C300,197 220,192 150,178Z" fill="#fff" fill-opacity="0.07" filter="url(#bl1)"/>
<path d="M270,15 C290,17 305,22 323.5,31.6 C345,42 360,48 376.2,54 C395,60 420,65 437.7,73.3 C455,83 470,100 482.5,120 C488,130 492,140 494,150" fill="none" stroke="#000" stroke-opacity="0.42" stroke-width="24" filter="url(#bl5)"/>
<path d="M41.8,149.0C41.4,142.5 41.9,138.3 43.6,132.0C45.6,124.9 47.8,120.7 51.4,114.3C55.3,107.3 58.0,103.0 63.1,96.8C68.4,90.3 72.4,86.7 78.7,81.2C84.3,76.3 88.2,73.6 94.3,69.5C100.8,65.1 105.1,62.7 111.9,58.8C118.5,54.9 123.0,53.1 129.5,49.0C137.2,44.2 141.2,40.0 149.0,35.3C156.1,31.0 160.9,28.8 168.5,25.6C174.2,23.2 177.9,21.9 184.0,20.7C192.8,19.0 198.5,18.7 207.5,18.2C222.3,17.4 231.6,17.6 246.4,17.4C255.4,17.3 261.0,16.6 270.0,17.2C277.1,17.6 281.6,18.4 288.5,20.0C296.0,21.7 300.8,23.0 308.0,25.8C314.1,28.2 317.6,30.6 323.5,33.6C329.4,36.6 333.1,38.6 339.1,41.4C345.7,44.5 349.9,46.5 356.7,49.2C364.0,52.1 368.7,53.8 376.2,56.0C391.9,60.6 402.2,62.1 417.8,67.0C425.6,69.5 430.6,71.1 437.7,75.3C445.0,79.6 449.1,83.2 455.2,89.0C461.7,95.1 465.1,99.6 470.8,106.5C475.5,112.2 478.4,115.9 482.5,122.1C485.8,127.1 488.0,130.3 490.3,135.8C492.1,140.0 493.0,142.9 493.2,147.4C493.4,151.2 492.8,153.7 491.3,157.2C489.5,161.3 488.1,164.2 484.5,167.0C479.0,171.2 474.5,172.6 468.0,175.0C458.0,178.7 451.4,180.5 441.0,183.0C422.6,187.4 410.9,189.9 392.3,193.0C373.9,196.1 362.2,197.9 343.6,199.2C325.2,200.5 313.5,200.7 295.0,200.0C276.3,199.3 264.5,198.0 246.0,195.3C227.4,192.6 215.9,189.3 197.4,185.6C178.9,181.9 167.4,178.6 148.7,175.8C130.3,173.0 118.5,172.3 100.0,171.0C88.2,170.1 80.7,171.0 69.0,170.0C63.0,169.5 59.0,169.2 53.4,167.0C49.9,165.7 47.6,164.1 45.6,161.0C43.0,157.0 42.1,153.8 41.8,149.0Z" fill="none" stroke="#000" stroke-opacity="0.6" stroke-width="3.4" filter="url(#bl1)"/>
</g>
<path d="M59.0,134.6C59.4,133.7 61.0,132.9 62.1,132.1C63.1,131.2 64.5,130.3 65.3,129.7C66.1,129.1 66.5,128.3 67.3,128.2C68.2,128.1 70.0,128.6 70.5,129.1C70.9,129.6 70.4,130.6 69.9,131.3C69.4,132.1 68.1,133.3 67.2,134.1C66.3,134.9 65.6,135.4 64.6,136.1C63.6,136.8 61.8,137.9 61.0,138.1C60.3,138.2 59.6,137.8 59.3,137.2C59.0,136.6 58.5,135.5 59.0,134.6Z" fill="#0000f0"/>
<g clip-path="url(#clipC)">
<path d="M38.8,305.9C39.0,302.2 39.1,299.6 40.7,296.2C42.5,292.4 44.2,290.1 47.5,287.4C50.7,284.7 53.3,283.7 57.3,282.5C61.6,281.2 64.5,281.0 69.0,281.0C74.9,280.9 78.7,281.7 84.6,282.2C89.1,282.6 91.8,283.8 96.3,283.5C100.9,283.2 103.5,281.4 108.0,280.6C115.4,279.2 120.1,278.9 127.5,277.7C134.9,276.5 139.5,275.4 147.0,274.4C151.9,273.8 155.1,274.3 160.0,273.4C167.5,272.0 172.1,270.5 179.5,268.5C187.0,266.5 191.5,264.7 199.0,262.7C206.4,260.7 211.0,259.3 218.5,257.8C225.8,256.3 230.6,255.8 238.0,254.9C245.4,254.0 250.0,253.4 257.4,252.9C268.5,252.1 275.6,251.9 286.7,251.6C295.6,251.4 301.1,251.6 310.0,251.6C321.1,251.6 328.1,251.2 339.2,251.6C350.4,252.0 357.4,252.5 368.5,253.9C379.7,255.3 386.6,256.8 397.7,258.8C408.9,260.8 415.9,262.1 427.0,264.6C435.9,266.6 441.8,267.1 450.3,270.5C459.6,274.3 465.2,277.6 473.5,283.3C477.8,286.3 480.2,288.7 483.3,293.0C485.4,295.9 486.4,298.2 486.8,301.8C487.2,305.5 486.4,308.0 485.2,311.5C483.6,316.2 481.6,318.8 479.4,323.2C477.0,327.9 475.7,331.0 473.0,335.5C470.6,339.5 468.9,341.9 466.0,345.5C463.2,349.1 461.2,351.2 458.0,354.5C453.7,358.9 451.0,361.7 446.4,365.8C443.0,368.8 440.7,370.4 437.0,373.0C433.3,375.6 431.0,377.2 427.0,379.4C423.3,381.4 420.9,382.5 417.0,384.0C413.4,385.4 411.1,386.3 407.4,387.2C400.1,389.0 395.4,389.5 388.0,391.0C380.6,392.5 375.8,393.0 368.5,395.0C363.2,396.4 359.9,397.8 354.8,400.0C348.1,402.9 344.0,405.0 337.4,408.2C332.2,410.7 328.9,412.3 323.8,415.0C317.8,418.2 314.4,420.9 308.2,423.8C303.2,426.1 299.9,427.3 294.6,428.7C288.8,430.3 285.0,431.0 279.0,431.6C271.6,432.3 266.9,432.0 259.5,432.0C252.1,432.0 247.4,431.9 240.0,431.6C234.8,431.4 231.6,430.9 226.4,430.6C219.0,430.2 214.3,430.4 207.0,429.7C199.5,429.0 194.7,428.5 187.4,426.7C179.8,424.8 175.2,423.0 168.0,419.9C160.4,416.7 155.9,413.9 148.5,410.2C141.1,406.5 136.3,404.4 129.0,400.4C121.4,396.2 116.6,393.7 109.5,388.7C101.7,383.3 97.3,379.2 90.0,373.1C81.9,366.3 76.8,361.9 69.0,354.7C63.6,349.7 60.1,346.6 55.3,341.0C51.2,336.2 48.7,332.9 45.6,327.4C42.8,322.5 41.4,319.1 39.7,313.7C38.8,310.9 38.6,308.9 38.8,305.9Z" fill="url(#gC)"/>
<g fill="#000" stroke="#000" stroke-width="1.2" stroke-linejoin="round" opacity="0.345">
<path d="M47.5,301.1C48.5,299.0 50.2,298.1 52.4,297.7C54.3,297.5 56.2,298.0 56.9,299.7C57.9,302.1 56.3,304.2 56.3,306.9C56.3,309.5 56.2,311.2 56.9,313.7C57.7,316.8 58.5,318.8 60.2,321.5C61.6,323.7 63.3,324.5 65.1,326.4C66.6,328.0 68.0,329.0 69.0,330.9C69.4,331.8 68.3,332.6 68.6,333.6C69.4,336.0 70.6,337.6 71.9,340.0C73.3,342.5 74.3,344.1 75.8,346.5C76.9,348.1 77.4,349.3 78.7,350.8C80.0,352.1 81.1,352.6 82.6,353.7C84.1,354.8 86.5,355.4 86.5,356.6C86.5,357.8 84.1,358.6 82.6,358.2C80.0,357.4 78.9,355.4 76.8,353.7C74.1,351.5 72.5,350.2 70.0,347.8C67.3,345.3 65.6,343.7 63.1,341.0C60.8,338.5 59.5,336.8 57.3,334.2C55.2,331.6 53.5,330.2 51.8,327.4C50.2,324.6 49.4,322.7 48.5,319.6C47.4,316.0 46.8,313.6 46.6,309.8C46.4,306.5 46.1,304.1 47.5,301.1Z"/>
<path d="M67.4,316.6C67.7,315.6 69.2,314.5 70.0,315.3C71.1,316.6 71.1,319.2 71.9,321.5C72.9,324.5 74.1,326.7 74.4,329.3C74.6,330.2 74.1,331.3 73.3,331.3C72.1,331.3 70.8,330.5 70.0,329.3C68.6,327.4 68.5,325.8 68.0,323.5C67.5,320.9 66.9,318.8 67.4,316.6Z"/>
<path d="M79.7,308.9C81.0,306.9 81.3,304.5 83.6,304.0C85.7,303.5 87.1,305.2 88.5,306.9C90.2,309.1 90.6,311.0 91.4,313.7C92.5,317.3 92.4,319.8 93.3,323.5C94.3,327.2 94.8,329.6 96.3,333.2C97.8,337.1 98.6,339.7 101.1,343.0C102.8,345.1 105.9,344.5 107.0,346.9C107.8,348.7 106.7,350.6 105.0,351.7C103.5,352.8 101.6,350.6 100.2,351.7C98.2,353.2 99.2,356.0 97.2,357.6C95.5,359.0 93.6,359.3 91.4,358.9C88.9,358.5 87.5,357.2 85.5,355.6C83.6,354.1 82.7,352.7 81.1,350.8C80.2,349.7 79.4,349.1 79.1,347.8C78.5,345.3 79.2,343.6 78.7,341.0C78.3,338.4 76.8,336.9 76.8,334.2C76.8,332.2 78.6,331.3 78.7,329.3C79.0,326.3 78.1,324.5 77.7,321.5C77.4,318.9 76.4,317.3 76.8,314.7C77.2,312.2 78.4,310.9 79.7,308.9Z"/>
<path d="M68.0,289.4C68.3,287.6 70.0,286.3 71.9,285.5C74.3,284.4 76.1,284.2 78.7,284.5C80.1,284.6 81.9,285.1 81.6,286.4C81.4,288.0 79.6,289.4 77.7,290.3C75.4,291.5 73.5,292.2 70.9,291.9C69.5,291.7 67.8,290.8 68.0,289.4Z"/>
<path d="M103.1,289.4C103.6,288.0 104.6,287.1 106.0,286.8C107.3,286.6 108.6,287.2 108.9,288.4C109.3,289.7 108.7,291.0 107.6,291.9C106.5,292.7 105.2,292.9 104.1,292.3C103.0,291.7 102.7,290.5 103.1,289.4Z"/>
<path d="M99.2,310.8C99.6,308.7 101.0,307.4 103.1,306.9C105.0,306.5 106.5,307.5 108.0,308.9C110.3,311.0 110.9,313.1 112.8,315.7C115.0,318.7 116.3,320.6 118.7,323.5C121.2,326.5 122.9,328.3 125.5,331.3C128.1,334.2 129.8,336.1 132.3,339.1C133.9,340.9 136.2,341.6 136.2,343.9C136.2,346.3 134.2,347.3 132.3,348.8C130.7,350.0 129.4,351.3 127.4,350.8C124.7,350.0 123.6,347.9 121.6,345.9C119.2,343.5 117.9,341.7 115.8,339.1C113.4,336.2 112.0,334.3 109.9,331.3C107.9,328.4 106.8,326.5 105.0,323.5C103.5,320.9 102.4,319.4 101.1,316.6C100.2,314.5 98.7,313.1 99.2,310.8Z"/>
<path d="M101.1,347.8C103.0,346.4 104.7,345.3 107.0,345.9C109.5,346.6 110.8,348.4 111.9,350.8C113.1,353.5 113.5,355.6 112.8,358.5C112.3,361.2 111.3,363.1 108.9,364.4C107.3,365.3 105.4,364.8 104.1,363.4C102.1,361.4 102.1,359.2 101.1,356.6C100.5,354.8 99.8,353.7 99.8,351.7C99.8,350.2 99.9,348.8 101.1,347.8Z"/>
<path d="M121.6,288.4C121.6,286.5 123.7,285.6 125.5,285.5C127.8,285.2 129.4,286.2 131.3,287.4C133.6,288.8 134.3,290.5 136.2,292.3C138.7,294.6 140.9,295.4 143.0,298.1C145.1,300.7 145.2,303.1 146.9,305.9C148.6,308.7 149.9,310.2 151.8,312.7C153.6,315.0 155.1,316.2 156.7,318.6C157.8,320.3 159.0,321.5 158.6,323.5C158.2,326.1 156.6,327.4 154.7,329.3C152.8,331.2 151.5,333.7 148.9,333.2C146.3,332.7 146.5,329.6 145.0,327.4C143.2,324.7 142.0,323.1 140.1,320.5C138.3,318.0 136.9,316.5 135.2,313.7C133.5,310.9 132.7,309.0 131.3,305.9C130.1,303.0 129.7,301.0 128.4,298.1C127.5,296.2 126.7,295.0 125.5,293.3C124.1,291.3 121.6,290.5 121.6,288.4Z"/>
<path d="M129.4,283.5C131.5,282.2 135.4,281.4 139.1,280.6C143.5,279.6 146.3,278.8 150.8,278.6C156.8,278.4 160.6,278.6 166.4,279.6C171.0,280.4 173.6,282.2 178.1,283.5C182.6,284.8 186.8,284.6 190.0,286.4C191.3,287.2 191.4,290.0 190.0,290.3C186.8,291.1 182.6,290.3 178.1,289.4C173.5,288.4 171.0,286.4 166.4,285.5C160.6,284.2 156.8,283.7 150.8,283.5C146.4,283.4 143.6,284.0 139.1,284.5C136.2,284.8 133.9,285.7 131.3,285.5C130.3,285.4 128.5,284.1 129.4,283.5Z"/>
<path d="M174.2,313.7C175.3,311.0 177.4,310.0 180.1,308.9C183.6,307.3 189.4,303.1 190.0,306.9C192.7,323.3 191.6,354.4 190.0,370.2C189.7,373.0 185.6,368.6 184.0,366.3C181.6,363.1 181.2,360.4 180.1,356.6C179.0,353.0 179.0,350.5 178.1,346.9C177.2,343.1 176.1,340.9 175.2,337.1C174.2,332.7 173.4,329.9 173.2,325.4C173.1,321.0 172.5,317.8 174.2,313.7Z"/>
<path d="M118.7,370.2C119.1,366.8 121.2,365.0 123.5,362.4C126.1,359.7 128.2,358.6 131.3,356.6C134.2,354.8 135.9,353.3 139.1,352.7C142.1,352.2 144.0,353.0 146.9,353.7C150.0,354.4 152.1,354.9 154.7,356.6C157.4,358.3 158.5,360.1 160.6,362.4C163.0,365.3 164.5,367.1 166.4,370.2C168.2,373.1 169.8,374.9 170.3,378.0C170.6,379.7 170.0,381.9 168.4,381.9C166.3,381.9 164.7,379.5 162.5,378.0C160.3,376.6 158.8,373.6 156.7,374.1C154.6,374.7 155.8,377.9 154.7,380.0C153.6,382.1 153.2,384.6 150.8,385.1C143.6,386.4 135.2,386.4 127.4,385.1C124.6,384.6 123.1,382.5 121.6,380.0C119.6,376.7 118.2,374.1 118.7,370.2Z"/>
<path d="M90.4,371.2C92.2,370.4 94.2,372.8 96.3,374.1C99.4,376.1 101.4,377.5 104.1,380.0C105.8,381.6 110.1,383.9 108.0,385.1C105.4,386.4 99.1,387.1 94.3,385.1C91.0,383.6 90.4,380.5 89.4,377.1C88.8,374.9 88.6,372.0 90.4,371.2Z"/>
<path d="M39.7,300.1C40.2,297.6 41.2,296.2 42.7,294.2C43.5,293.2 45.1,291.2 45.6,292.3C46.1,293.3 45.0,295.9 44.6,298.1C44.2,300.4 43.5,301.7 43.6,304.0C43.8,306.3 44.5,307.6 45.2,309.8C46.0,312.1 47.2,313.3 47.5,315.7C47.7,316.8 47.7,319.0 46.6,318.6C45.3,318.1 43.8,315.8 42.7,313.7C41.3,311.3 40.7,309.6 40.1,306.9C39.6,304.4 39.2,302.6 39.7,300.1Z"/>
<path d="M160.0,281.2C163.1,279.4 167.2,279.6 171.7,279.2C176.1,278.9 179.0,278.8 183.4,279.2C186.1,279.5 189.2,279.1 190.2,281.2C191.2,283.3 189.2,285.4 187.3,287.0C184.8,289.2 182.7,290.4 179.5,290.5C175.7,290.8 173.5,288.9 169.7,288.0C166.1,287.2 162.6,287.9 160.0,286.1C158.5,285.0 158.4,282.1 160.0,281.2Z"/>
<path d="M160.0,322.1C160.5,319.5 162.4,317.9 163.9,315.3C165.0,313.4 165.0,310.7 166.8,310.4C168.6,310.2 169.3,312.7 170.7,314.3C171.9,315.7 172.3,319.3 173.6,318.2C174.9,317.2 173.8,312.9 175.6,310.4C177.1,308.4 179.0,307.5 181.4,307.5C184.3,307.5 186.4,308.3 188.3,310.4C190.4,312.8 190.3,315.2 191.2,318.2C192.2,321.9 192.0,324.3 193.1,328.0C194.3,331.8 195.5,334.0 197.0,337.7C198.5,341.4 199.9,343.6 200.9,347.4C201.7,350.3 202.3,352.3 201.9,355.2C201.6,357.7 199.0,358.6 199.0,361.1C199.0,363.6 201.9,364.5 201.9,366.9C201.9,368.6 200.6,369.9 199.0,370.1C190.9,370.9 179.5,371.4 171.7,370.1C169.7,369.7 170.7,366.8 169.7,365.0C168.5,362.6 166.7,361.7 165.8,359.1C164.8,356.3 163.7,354.1 164.9,351.3C165.9,348.9 168.9,349.4 170.7,347.4C172.4,345.6 173.5,344.1 173.6,341.6C173.9,338.6 173.1,336.5 171.7,333.8C170.4,331.2 169.0,329.9 166.8,328.0C165.2,326.5 163.6,326.4 161.9,325.0C160.9,324.2 159.7,323.4 160.0,322.1Z"/>
<path d="M203.9,298.7C204.5,295.8 205.4,293.7 207.7,291.9C210.2,290.1 212.5,289.8 215.5,290.0C219.1,290.2 221.2,291.2 224.3,292.9C228.0,294.9 229.8,297.0 233.1,299.7C236.5,302.6 238.6,304.4 241.9,307.5C244.9,310.4 247.1,312.0 249.7,315.3C251.2,317.2 252.8,318.7 252.6,321.1C252.4,323.8 250.1,324.7 248.7,327.0C247.5,328.8 245.0,330.0 245.8,331.9C246.5,333.7 249.5,332.8 251.6,333.8C254.3,335.1 256.8,335.2 258.4,337.7C260.1,340.2 259.7,342.5 259.4,345.5C259.0,349.3 257.6,351.5 256.5,355.2C255.4,358.9 254.5,361.2 253.5,365.0C253.0,366.9 254.5,369.7 252.6,370.1C245.3,371.4 233.8,371.9 226.3,370.1C223.6,369.4 224.1,365.8 224.3,363.0C224.5,359.9 226.3,358.3 227.2,355.2C228.1,352.3 229.8,350.4 229.2,347.4C228.6,344.6 226.3,343.7 224.3,341.6C222.2,339.3 220.3,338.3 218.5,335.8C216.5,333.1 215.8,331.0 214.6,328.0C213.2,324.4 213.0,321.8 211.6,318.2C210.4,315.1 209.2,313.4 207.7,310.4C206.6,308.2 205.6,306.9 204.8,304.6C204.1,302.4 203.3,300.9 203.9,298.7Z"/>
<path d="M266.2,299.7C266.4,297.2 268.8,296.1 271.1,295.2C274.6,293.8 277.1,293.7 280.8,293.9C285.3,294.0 288.3,294.3 292.5,295.8C295.8,297.0 297.8,298.3 300.3,300.7C303.0,303.2 304.0,305.5 306.2,308.5C308.1,311.0 308.9,312.9 311.0,315.3C312.6,317.0 315.1,317.1 315.9,319.2C316.5,320.7 313.1,321.7 314.0,323.1C315.1,324.9 319.7,323.5 320.0,326.0C321.6,338.5 326.3,358.3 320.0,370.1C315.8,378.0 305.2,371.9 296.4,370.1C292.0,369.1 289.9,366.3 286.7,363.0C284.2,360.6 283.0,358.5 281.8,355.2C280.8,352.4 280.2,350.4 280.8,347.4C281.4,344.8 282.8,343.5 284.7,341.6C287.4,339.0 289.7,338.1 292.5,335.8C294.1,334.4 296.4,333.9 296.4,331.9C296.4,329.8 294.3,329.0 292.5,328.0C290.5,326.8 288.6,327.3 286.7,326.0C284.1,324.3 282.8,322.6 280.8,320.2C278.7,317.4 278.1,315.1 276.0,312.4C274.0,309.9 272.0,309.0 270.1,306.5C268.3,304.2 266.0,302.7 266.2,299.7Z"/>
<path d="M284.7,279.2C286.8,278.4 292.0,278.7 296.4,278.8C302.4,279.1 308.4,279.1 312.0,280.2C313.3,280.6 311.4,282.8 310.1,283.1C306.9,284.0 304.0,283.7 300.3,283.5C295.9,283.3 292.8,283.3 288.6,282.2C286.8,281.7 283.0,280.0 284.7,279.2Z"/>
<path d="M325.6,296.8C326.9,294.4 328.7,292.7 331.4,291.9C336.4,290.4 339.9,290.8 345.1,290.9C351.0,291.0 354.8,291.4 360.7,292.5C365.2,293.3 367.8,295.5 372.4,295.8C376.9,296.1 379.6,294.4 384.1,293.9C390.0,293.1 393.7,292.6 399.7,292.5C407.1,292.4 411.7,292.8 419.1,293.3C423.6,293.5 426.4,293.6 430.8,294.4C433.5,294.9 436.6,295.1 437.7,296.8C438.6,298.3 436.5,300.0 434.7,300.7C430.8,302.1 427.5,301.6 423.0,302.2C417.1,303.1 413.4,303.9 407.4,304.6C402.3,305.2 399.0,305.9 393.8,305.5C389.2,305.2 386.6,303.6 382.1,302.6C378.4,301.9 376.1,300.9 372.4,301.1C367.8,301.3 365.2,302.9 360.7,303.6C354.8,304.6 351.1,305.5 345.1,305.5C340.6,305.5 337.7,304.7 333.4,303.6C330.7,302.9 328.6,302.5 326.6,300.7C325.4,299.7 324.9,298.1 325.6,296.8Z"/>
<path d="M445.5,300.7C446.5,298.4 448.0,297.0 450.3,295.8C452.7,294.6 454.5,293.9 457.1,294.4C458.9,294.8 460.5,296.0 460.5,297.7C460.5,299.9 458.9,301.3 457.1,302.6C454.9,304.3 453.1,305.1 450.3,305.5C448.8,305.8 447.5,305.3 446.4,304.2C445.4,303.2 444.9,301.9 445.5,300.7Z"/>
<path d="M465.9,298.7C466.6,296.9 468.2,295.3 470.0,295.8C471.8,296.3 472.7,298.6 472.7,300.7C472.7,303.1 471.6,305.5 470.0,306.5C468.8,307.3 467.5,305.8 466.9,304.6C465.8,302.6 465.2,300.8 465.9,298.7Z"/>
<path d="M358.7,278.3C360.5,276.8 364.7,276.1 368.5,275.7C372.9,275.3 375.8,275.7 380.2,276.3C382.8,276.7 386.5,277.0 387.0,278.3C387.5,279.6 384.2,280.7 382.1,281.2C377.8,282.2 374.9,282.2 370.4,282.2C367.1,282.2 364.8,282.2 361.6,281.2C360.2,280.7 357.5,279.2 358.7,278.3Z"/>
<path d="M401.6,278.8C404.2,277.8 410.0,277.2 415.2,276.9C421.2,276.6 424.9,276.8 430.8,277.3C436.1,277.7 442.4,278.2 444.5,279.2C446.6,280.3 441.0,281.0 438.6,281.2C431.9,281.7 426.5,281.3 419.1,281.2C414.0,281.1 410.2,281.4 405.5,280.8C403.9,280.6 400.1,279.5 401.6,278.8Z"/>
<path d="M310.0,317.2C311.5,317.4 312.8,317.1 313.9,318.2C315.3,319.6 316.0,321.1 315.8,323.1C315.6,325.2 312.4,326.1 312.9,328.0C313.4,329.8 316.1,328.8 317.8,329.9C320.6,331.8 321.3,334.8 324.6,335.8C327.2,336.5 329.1,335.1 331.4,333.8C334.7,332.1 336.2,330.1 339.2,328.0C342.9,325.3 344.9,323.2 349.0,321.1C353.2,319.0 356.0,317.8 360.7,317.2C365.8,316.6 369.2,317.4 374.3,318.2C378.5,318.9 382.4,319.1 385.0,321.1C386.5,322.3 383.9,324.1 384.1,326.0C384.2,327.7 384.4,329.7 386.0,329.9C388.6,330.2 391.0,328.5 393.8,327.0C397.8,324.8 399.7,322.5 403.5,320.2C407.1,318.0 409.4,316.3 413.3,315.3C415.1,314.8 417.1,314.7 418.2,316.3C419.7,318.6 418.3,321.2 419.1,324.1C419.8,326.4 419.6,330.4 422.1,329.9C424.7,329.4 425.8,324.5 428.9,322.1C432.2,319.6 434.9,319.0 438.6,317.2C443.0,315.2 445.7,313.8 450.3,312.4C453.9,311.2 456.3,310.4 460.1,310.4C462.4,310.4 464.7,310.4 465.9,312.4C467.1,314.3 466.2,316.3 464.9,318.2C463.0,321.1 461.0,322.2 458.1,324.1C455.4,325.9 453.4,326.8 450.3,328.0C447.5,329.0 445.3,328.5 442.5,329.9C439.2,331.6 437.7,333.5 434.7,335.8C431.8,338.0 430.2,339.8 426.9,341.6C424.2,343.2 422.3,344.1 419.1,344.5C416.2,344.9 414.2,342.8 411.3,343.5C409.3,344.1 407.9,345.4 407.4,347.4C407.0,349.4 410.7,350.8 409.4,352.3C407.8,354.1 404.6,353.8 401.6,354.3C397.9,354.9 395.6,355.4 391.9,355.2C388.8,355.1 386.9,354.3 384.1,353.3C381.7,352.5 380.7,350.5 378.2,350.4C374.4,350.1 372.2,351.8 368.5,352.3C364.8,352.9 362.4,353.5 358.7,353.3C355.0,353.1 352.8,351.2 349.0,351.3C345.1,351.5 342.8,352.8 339.2,354.3C335.4,355.8 333.2,357.3 329.5,359.1C326.5,360.6 324.8,361.8 321.7,363.0C317.3,364.8 314.6,365.9 310.0,366.9C307.8,367.4 304.4,369.1 304.2,366.9C302.6,353.7 302.6,330.5 304.2,317.2C304.4,315.0 307.8,317.0 310.0,317.2Z"/>
<path d="M415.2,359.1C417.8,356.4 419.4,354.0 423.0,353.3C426.1,352.7 429.8,353.6 430.8,356.2C431.9,358.8 428.9,360.8 426.9,363.0C424.4,366.1 422.9,368.7 419.1,370.1C415.0,371.6 408.5,373.0 407.4,370.1C406.4,367.1 411.8,362.9 415.2,359.1Z"/>
<path d="M90.0,340.0C92.6,337.4 97.4,338.4 99.7,340.0C101.6,341.2 98.4,343.6 98.8,345.8C99.2,348.3 99.4,350.7 101.7,351.7C104.4,352.9 106.7,349.7 109.5,350.7C111.5,351.5 112.4,353.4 112.4,355.6C112.4,358.8 111.6,361.0 109.5,363.4C107.9,365.1 105.8,366.1 103.6,365.3C100.9,364.3 100.6,361.7 98.8,359.5C96.9,357.3 95.8,355.8 93.9,353.6C92.5,352.1 90.6,351.8 90.0,349.7C89.0,346.2 87.4,342.6 90.0,340.0Z"/>
<path d="M126.1,361.4C128.5,358.7 129.6,356.2 132.9,354.6C136.2,353.0 139.0,352.7 142.6,353.6C146.8,354.7 148.8,357.1 152.4,359.5C155.4,361.5 157.6,362.6 160.2,365.3C162.5,367.9 162.4,370.8 165.0,373.1C166.4,374.4 168.1,374.8 169.9,374.1C172.6,373.1 173.1,370.3 175.8,369.2C177.8,368.4 181.6,371.3 181.6,369.2C181.6,367.2 178.2,364.2 175.8,361.4C173.0,358.3 170.2,357.2 168.0,353.6C166.7,351.7 166.2,349.9 167.0,347.8C167.9,345.3 169.5,344.2 171.9,342.9C175.3,341.1 177.8,340.4 181.6,340.0C188.2,339.3 193.4,337.4 199.1,340.0C202.8,341.7 202.6,345.8 203.0,349.7C203.4,353.5 200.9,355.7 201.1,359.5C201.2,362.0 204.5,363.0 204.0,365.3C203.5,367.4 200.9,367.1 199.1,368.3C197.6,369.3 194.9,369.4 195.2,371.2C195.8,374.0 198.7,376.2 201.1,379.0C203.8,382.1 205.8,383.9 208.9,386.8C211.8,389.5 213.5,391.2 216.7,393.6C219.5,395.7 221.0,398.0 224.5,398.5C226.9,398.8 227.9,396.0 230.3,395.5C232.2,395.2 233.8,395.3 235.2,396.5C237.1,398.2 236.6,400.4 238.1,402.4C240.0,404.9 241.3,406.5 244.0,408.2C246.0,409.5 249.3,407.9 250.0,410.2C251.6,415.4 253.2,423.5 250.0,427.7C247.2,431.3 242.6,426.9 238.1,425.8C233.6,424.6 230.8,423.5 226.4,421.9C222.7,420.5 219.7,420.6 216.7,418.0C214.2,415.8 214.5,413.0 212.8,410.2C210.8,407.0 209.3,405.2 206.9,402.4C204.9,400.0 203.2,397.0 201.1,396.5C199.5,396.1 200.7,400.2 199.1,400.4C197.6,400.7 196.8,398.6 195.2,397.5C193.1,396.0 191.5,393.3 189.4,393.6C187.4,393.8 187.1,396.5 187.4,398.5C188.0,401.7 189.8,403.3 191.3,406.3C192.7,408.9 193.6,410.6 195.2,413.1C196.2,414.6 199.2,416.5 198.2,417.0C197.1,417.5 193.8,416.0 191.3,415.0C188.3,413.8 186.9,411.3 183.5,411.1C180.4,410.9 178.9,413.9 175.8,414.1C172.7,414.3 170.3,414.1 168.0,412.1C165.4,410.0 164.9,407.5 164.1,404.3C163.1,400.7 163.5,398.3 163.1,394.6C162.7,390.9 163.0,388.4 162.1,384.8C161.5,382.4 161.1,380.6 159.2,379.0C157.8,377.7 156.1,377.5 154.3,378.0C151.7,378.7 150.6,380.3 148.5,381.9C146.2,383.6 145.5,386.3 142.6,386.8C140.2,387.2 138.9,385.2 136.8,383.9C133.7,381.8 132.2,379.8 129.0,378.0C126.2,376.5 123.4,377.3 121.2,375.1C119.6,373.5 119.5,371.4 120.2,369.2C121.5,365.7 123.6,364.2 126.1,361.4Z"/>
<path d="M226.4,357.5C227.2,353.6 228.7,351.4 230.3,347.8C231.7,344.8 231.1,341.2 234.2,340.0C239.5,337.9 248.1,334.3 250.0,340.0C254.2,352.5 251.6,375.3 250.0,386.8C249.6,389.5 246.1,384.6 244.0,382.9C241.5,380.9 240.2,379.4 238.1,377.0C235.7,374.2 234.6,372.1 232.3,369.2C230.5,367.0 228.7,366.0 227.4,363.4C226.4,361.4 226.0,359.8 226.4,357.5Z"/>
<path d="M108.5,383.9C109.0,381.9 111.3,381.1 113.4,381.3C116.0,381.6 117.5,382.9 119.2,384.8C120.6,386.3 121.7,387.9 121.2,389.7C120.7,391.3 118.9,391.8 117.3,391.6C114.8,391.4 113.3,390.4 111.4,388.7C109.8,387.3 108.0,385.8 108.5,383.9Z"/>
<path d="M133.9,399.4C134.9,398.0 137.4,397.1 139.7,397.5C142.3,397.9 143.9,399.3 145.5,401.4C146.6,402.7 147.8,404.8 146.5,405.9C145.2,406.9 142.8,405.9 140.7,405.3C138.7,404.7 137.4,404.1 135.8,402.8C134.7,401.8 133.0,400.6 133.9,399.4Z"/>
<path d="M240.0,340.0C243.1,333.3 254.8,337.9 259.5,340.0C262.3,341.2 258.6,344.9 257.5,347.8C256.4,350.9 254.2,352.3 253.6,355.6C253.0,359.3 253.4,361.8 254.6,365.3C255.7,368.7 257.9,370.0 259.5,373.1C260.5,375.2 262.7,377.0 261.4,379.0C259.9,381.3 256.7,381.0 253.6,381.9C250.7,382.8 248.9,383.6 245.8,383.9C243.6,384.0 240.3,385.1 240.0,382.9C238.4,371.2 234.8,351.4 240.0,340.0Z"/>
<path d="M281.9,340.0C312.9,337.9 368.5,337.9 400.0,340.0C403.0,340.2 401.4,345.2 400.0,347.8C398.8,350.2 396.5,350.6 394.0,351.7C391.2,352.9 389.2,353.9 386.2,353.6C383.7,353.5 382.8,350.7 380.3,350.7C377.8,350.7 376.9,353.0 374.5,353.6C370.9,354.5 368.4,355.0 364.7,354.6C360.9,354.2 358.8,352.1 355.0,351.7C351.3,351.3 348.9,352.0 345.2,352.7C340.7,353.5 337.8,353.9 333.5,355.6C331.1,356.6 327.2,357.4 327.7,359.5C328.2,361.6 332.5,361.9 335.5,363.4C338.5,364.9 340.8,365.1 343.3,367.3C344.8,368.6 346.1,370.4 345.2,372.2C344.2,374.2 341.2,373.4 339.4,375.1C337.4,376.9 337.0,378.7 335.5,380.9C334.0,383.1 333.7,385.2 331.6,386.8C329.1,388.7 326.9,389.3 323.8,389.7C321.2,390.0 319.2,390.0 317.0,388.7C314.5,387.3 313.6,385.4 312.1,382.9C310.9,380.9 310.0,379.4 310.2,377.0C310.4,374.6 312.7,373.6 313.1,371.2C313.5,369.0 313.4,367.2 312.1,365.3C310.6,363.1 308.7,362.6 306.3,361.4C303.4,360.0 301.3,359.9 298.5,358.5C295.3,357.0 293.5,355.7 290.7,353.6C287.9,351.6 285.7,350.7 283.9,347.8C282.2,345.2 278.9,340.2 281.9,340.0Z"/>
<path d="M262.4,379.0C263.8,376.1 266.3,375.5 269.2,374.1C272.0,372.8 274.0,372.0 277.0,372.2C280.2,372.4 282.2,373.4 284.8,375.1C287.5,376.8 289.1,378.2 290.7,380.9C292.2,383.6 292.8,385.7 292.6,388.7C292.4,391.5 289.2,392.9 289.7,395.5C290.1,397.7 292.5,397.8 294.6,398.5C297.4,399.3 299.5,398.6 302.4,399.4C304.4,400.1 306.5,400.3 307.2,402.4C307.9,404.2 306.8,405.9 305.3,407.2C303.9,408.5 300.7,406.4 300.4,408.2C300.2,410.0 302.8,411.9 304.3,414.1C305.4,415.6 307.6,416.1 307.2,418.0C306.7,420.6 304.7,422.0 302.4,423.8C299.7,425.8 297.8,427.0 294.6,427.7C291.0,428.5 288.2,429.2 284.8,427.7C282.4,426.7 282.5,424.0 280.9,421.9C279.5,419.9 278.9,418.5 277.0,417.0C275.1,415.4 273.0,415.7 271.2,414.1C269.2,412.3 268.9,410.3 267.3,408.2C265.5,405.9 264.1,404.7 262.4,402.4C261.1,400.6 258.9,399.6 259.5,397.5C260.3,394.9 264.4,395.4 265.3,392.6C266.2,390.1 264.0,388.4 263.4,385.8C262.8,383.2 261.2,381.3 262.4,379.0Z"/>
<path d="M327.7,400.4C328.4,397.8 329.6,396.3 331.6,394.6C334.9,391.8 337.7,391.1 341.3,388.7C345.1,386.3 347.2,384.3 351.1,381.9C353.9,380.2 355.6,378.7 358.9,378.0C361.1,377.5 363.0,377.5 364.7,379.0C366.5,380.5 367.4,382.6 366.7,384.8C365.7,387.8 363.2,388.6 360.8,390.7C358.0,393.1 356.1,394.5 353.0,396.5C349.4,398.9 347.0,400.1 343.3,402.4C339.6,404.6 337.6,406.7 333.5,408.2C331.5,409.0 329.0,410.0 327.7,408.2C326.1,406.1 326.9,403.3 327.7,400.4Z"/>
<path d="M366.7,384.8C366.7,383.0 371.2,381.2 374.5,380.0C378.0,378.6 380.5,378.7 384.2,378.0C387.9,377.3 390.3,376.7 394.0,376.1C396.3,375.6 398.9,373.1 400.0,375.1C401.6,377.9 402.1,383.4 400.0,386.8C398.4,389.4 395.1,387.9 392.0,387.7C388.2,387.5 386.0,386.0 382.3,385.8C379.3,385.6 377.5,387.0 374.5,386.8C371.4,386.6 366.7,386.6 366.7,384.8Z"/>
<path d="M388.1,370.2C389.4,369.0 391.6,368.3 394.0,367.7C396.2,367.1 398.4,365.8 400.0,367.3C401.6,368.7 401.6,371.6 400.0,373.1C398.4,374.7 396.3,373.3 394.0,373.1C392.1,373.0 390.7,372.9 389.1,372.2C388.4,371.8 387.5,370.8 388.1,370.2Z"/>
<path d="M240.0,414.1C240.8,411.9 243.5,415.8 245.8,416.0C248.1,416.2 249.6,414.3 251.7,415.0C254.4,415.9 255.3,418.1 257.5,419.9C260.5,422.2 262.8,423.0 265.3,425.8C266.7,427.2 269.2,430.2 267.3,430.6C260.5,432.2 247.3,436.0 240.0,431.6C234.3,428.1 238.4,418.2 240.0,414.1Z"/>
</g>
<path d="M270,450 L300,428 C322,412 340,394 365,383 C395,375 420,368 440,348 C460,327 470,311 476,291 L510,290 L510,450Z" fill="#000" fill-opacity="0.42" filter="url(#bl6)"/>
<path d="M100.0,283.2L130.0,278.6L160.0,277.3L199.0,278.3L238.0,277.3L277.0,276.3L320.0,275.3L368.5,274.4L427.0,275.3L470.0,279.2L490.0,290.0L500.0,290.0L500.0,240.0L90.0,240.0L90.0,284.0 Z" fill="#000" fill-opacity="0.27" filter="url(#bl2)"/>
<path d="M232,268.5 C280,262.5 340,261 400,266 C425,268.5 445,272.5 460,278" fill="none" stroke="#000" stroke-opacity="0.32" stroke-width="3.6" filter="url(#bl1)"/>
<path d="M205,279 C260,276.5 330,275.5 400,276.5 C430,277 455,280 474,286" fill="none" stroke="#000" stroke-opacity="0.30" stroke-width="4.2" filter="url(#bl1)"/>
<path d="M300,256 C350,255 400,259 440,267" fill="none" stroke="#000" stroke-opacity="0.2" stroke-width="3" filter="url(#bl1)"/>
<path d="M215,266 C260,258 330,256 400,262 L430,268 C360,262 280,262 225,270Z" fill="#fff" fill-opacity="0.10" filter="url(#bl1)"/>
<path d="M38.8,305.9C39.0,302.2 39.1,299.6 40.7,296.2C42.5,292.4 44.2,290.1 47.5,287.4C50.7,284.7 53.3,283.7 57.3,282.5C61.6,281.2 64.5,281.0 69.0,281.0C74.9,280.9 78.7,281.7 84.6,282.2C89.1,282.6 91.8,283.8 96.3,283.5C100.9,283.2 103.5,281.4 108.0,280.6C115.4,279.2 120.1,278.9 127.5,277.7C134.9,276.5 139.5,275.4 147.0,274.4C151.9,273.8 155.1,274.3 160.0,273.4C167.5,272.0 172.1,270.5 179.5,268.5C187.0,266.5 191.5,264.7 199.0,262.7C206.4,260.7 211.0,259.3 218.5,257.8C225.8,256.3 230.6,255.8 238.0,254.9C245.4,254.0 250.0,253.4 257.4,252.9C268.5,252.1 275.6,251.9 286.7,251.6C295.6,251.4 301.1,251.6 310.0,251.6C321.1,251.6 328.1,251.2 339.2,251.6C350.4,252.0 357.4,252.5 368.5,253.9C379.7,255.3 386.6,256.8 397.7,258.8C408.9,260.8 415.9,262.1 427.0,264.6C435.9,266.6 441.8,267.1 450.3,270.5C459.6,274.3 465.2,277.6 473.5,283.3C477.8,286.3 480.2,288.7 483.3,293.0C485.4,295.9 486.4,298.2 486.8,301.8C487.2,305.5 486.4,308.0 485.2,311.5C483.6,316.2 481.6,318.8 479.4,323.2C477.0,327.9 475.7,331.0 473.0,335.5C470.6,339.5 468.9,341.9 466.0,345.5C463.2,349.1 461.2,351.2 458.0,354.5C453.7,358.9 451.0,361.7 446.4,365.8C443.0,368.8 440.7,370.4 437.0,373.0C433.3,375.6 431.0,377.2 427.0,379.4C423.3,381.4 420.9,382.5 417.0,384.0C413.4,385.4 411.1,386.3 407.4,387.2C400.1,389.0 395.4,389.5 388.0,391.0C380.6,392.5 375.8,393.0 368.5,395.0C363.2,396.4 359.9,397.8 354.8,400.0C348.1,402.9 344.0,405.0 337.4,408.2C332.2,410.7 328.9,412.3 323.8,415.0C317.8,418.2 314.4,420.9 308.2,423.8C303.2,426.1 299.9,427.3 294.6,428.7C288.8,430.3 285.0,431.0 279.0,431.6C271.6,432.3 266.9,432.0 259.5,432.0C252.1,432.0 247.4,431.9 240.0,431.6C234.8,431.4 231.6,430.9 226.4,430.6C219.0,430.2 214.3,430.4 207.0,429.7C199.5,429.0 194.7,428.5 187.4,426.7C179.8,424.8 175.2,423.0 168.0,419.9C160.4,416.7 155.9,413.9 148.5,410.2C141.1,406.5 136.3,404.4 129.0,400.4C121.4,396.2 116.6,393.7 109.5,388.7C101.7,383.3 97.3,379.2 90.0,373.1C81.9,366.3 76.8,361.9 69.0,354.7C63.6,349.7 60.1,346.6 55.3,341.0C51.2,336.2 48.7,332.9 45.6,327.4C42.8,322.5 41.4,319.1 39.7,313.7C38.8,310.9 38.6,308.9 38.8,305.9Z" fill="none" stroke="#000" stroke-opacity="0.6" stroke-width="3.4" filter="url(#bl1)"/>
</g>
<path d="M68.1,332.6C68.3,332.0 69.4,331.1 70.2,330.9C71.0,330.7 71.9,331.0 72.7,331.4C73.5,331.8 74.5,332.6 75.3,333.5C76.1,334.4 76.8,335.6 77.4,336.9C78.0,338.2 78.6,339.8 78.9,341.1C79.2,342.4 79.5,343.6 79.5,344.9C79.5,346.2 79.0,348.1 78.7,348.8C78.5,349.3 77.8,349.5 77.4,349.2C76.9,348.9 76.3,347.9 75.7,347.1C75.1,346.2 74.2,344.8 73.6,343.7C73.0,342.6 72.5,341.4 71.9,340.3C71.3,339.2 70.7,337.9 70.2,336.9C69.7,335.9 69.3,335.0 68.9,334.3C68.6,333.7 67.8,333.2 68.1,332.6Z" fill="#0000f0"/>
<text x="7.2" y="14.9" font-size="19.5" font-weight="bold">a</text>
<text x="556.2" y="14.8" font-size="19.5" font-weight="bold">b</text>
<text x="8.0" y="258.6" font-size="19.5" font-weight="bold">c</text>
<text x="556.6" y="258.4" font-size="19.5" font-weight="bold">d</text>
<text x="8.6" y="489.8" font-size="19.5" font-weight="bold">e</text>
<text x="58.8" y="226.2" font-size="14.6" textLength="57" lengthAdjust="spacingAndGlyphs">posterior</text>
<text x="420" y="226.2" font-size="14.6" textLength="50.6" lengthAdjust="spacingAndGlyphs">anterior</text>
<rect x="409.2" y="421.2" width="105.7" height="30.8" fill="url(#cbar)"/>
<text x="412.2" y="415.8" font-size="14.2" textLength="91.6" lengthAdjust="spacingAndGlyphs"><tspan font-style="italic">p</tspan>-value in -log</text>
<text x="504.3" y="420.6" font-size="8.6" textLength="10.2" lengthAdjust="spacingAndGlyphs">10</text>
<text x="401" y="467" font-size="14" textLength="19" lengthAdjust="spacingAndGlyphs">1.3</text>
<text x="503.8" y="467" font-size="14" textLength="19.5" lengthAdjust="spacingAndGlyphs">5.0</text>
<rect x="596.6" y="15.4" width="159.7" height="180.0" fill="#fff" stroke="#2e2e2e" stroke-width="1.2"/>
<line x1="590.6" y1="24.9" x2="596.6" y2="24.9" stroke="#2e2e2e" stroke-width="1"/>
<text x="589.8" y="27.9" font-size="8.4" font-weight="bold" text-anchor="end">3.0</text>
<line x1="590.6" y1="65.3" x2="596.6" y2="65.3" stroke="#2e2e2e" stroke-width="1"/>
<text x="589.8" y="68.3" font-size="8.4" font-weight="bold" text-anchor="end">2.0</text>
<line x1="590.6" y1="105.6" x2="596.6" y2="105.6" stroke="#2e2e2e" stroke-width="1"/>
<text x="589.8" y="108.6" font-size="8.4" font-weight="bold" text-anchor="end">1.0</text>
<line x1="590.6" y1="145.9" x2="596.6" y2="145.9" stroke="#2e2e2e" stroke-width="1"/>
<text x="589.8" y="148.9" font-size="8.4" font-weight="bold" text-anchor="end">0.0</text>
<line x1="590.6" y1="186.2" x2="596.6" y2="186.2" stroke="#2e2e2e" stroke-width="1"/>
<text x="589.8" y="189.2" font-size="8.4" font-weight="bold" text-anchor="end">-1.0</text>
<path d="M619.9,67.8V80.6M619.9,108.7V141.3M616.8,67.8H623.0M616.8,141.3H623.0" stroke="#4a4a4a" stroke-width="1.15" fill="none"/>
<rect x="613.7" y="80.6" width="12.3" height="28.1" fill="#3a59b6" stroke="#2a3a70" stroke-width="0.7"/>
<line x1="613.7" y1="101.3" x2="626.0" y2="101.3" stroke="#111" stroke-width="1.1"/>
<path d="M650.4,54.7V84.1M650.4,104.4V116.0M647.2,54.7H653.5M647.2,116.0H653.5" stroke="#4a4a4a" stroke-width="1.15" fill="none"/>
<rect x="644.2" y="84.1" width="12.3" height="20.3" fill="#f0323c" stroke="#8a2028" stroke-width="0.7"/>
<line x1="644.2" y1="98.1" x2="656.5" y2="98.1" stroke="#111" stroke-width="1.1"/>
<path d="M702.6,54.7V98.0M702.6,128.3V165.4M699.5,54.7H705.8M699.5,165.4H705.8" stroke="#4a4a4a" stroke-width="1.15" fill="none"/>
<rect x="696.5" y="98.0" width="12.3" height="30.3" fill="#3a59b6" stroke="#2a3a70" stroke-width="0.7"/>
<line x1="696.5" y1="112.5" x2="708.8" y2="112.5" stroke="#111" stroke-width="1.1"/>
<path d="M733.4,57.5V111.1M733.4,151.5V158.6M730.2,57.5H736.5M730.2,158.6H736.5" stroke="#4a4a4a" stroke-width="1.15" fill="none"/>
<rect x="727.2" y="111.1" width="12.3" height="40.4" fill="#f0323c" stroke="#8a2028" stroke-width="0.7"/>
<line x1="727.2" y1="127.6" x2="739.5" y2="127.6" stroke="#111" stroke-width="1.1"/>
<circle cx="619.8" cy="37.1" r="1.5" fill="#fff" stroke="#111" stroke-width="1"/>
<circle cx="619.8" cy="158.3" r="1.5" fill="#fff" stroke="#111" stroke-width="1"/>
<circle cx="649.7" cy="39.8" r="1.5" fill="#fff" stroke="#111" stroke-width="1"/>
<circle cx="650.3" cy="136.2" r="1.5" fill="#fff" stroke="#111" stroke-width="1"/>
<circle cx="650.3" cy="141.2" r="1.5" fill="#fff" stroke="#111" stroke-width="1"/>
<circle cx="702.5" cy="43.8" r="1.5" fill="#fff" stroke="#111" stroke-width="1"/>
<path d="M651.4,30.8V25.2H731.2V30.8" stroke="#161616" stroke-width="1.4" stroke-linejoin="round" fill="none"/>
<path d="M652.9,40.7V35.8H701.2V40.7" stroke="#161616" stroke-width="1.4" stroke-linejoin="round" fill="none"/>
<path d="M622.9,167.5V173.2H702.5V167.5" stroke="#161616" stroke-width="1.4" stroke-linejoin="round" fill="none"/>
<path d="M622.9,177.2V184.6H731.2V177.2" stroke="#161616" stroke-width="1.4" stroke-linejoin="round" fill="none"/>
<text x="681.7" y="23.4" font-size="9.2" textLength="33.3" lengthAdjust="spacingAndGlyphs"><tspan font-style="italic">p</tspan>=0.002</text>
<text x="663.4" y="33.6" font-size="9.2" textLength="33.6" lengthAdjust="spacingAndGlyphs"><tspan font-style="italic">p</tspan>=0.006</text>
<text x="643.7" y="181.1" font-size="9.2" textLength="33.6" lengthAdjust="spacingAndGlyphs"><tspan font-style="italic">p</tspan>=0.022</text>
<text x="658.0" y="192.5" font-size="9.2" textLength="33.5" lengthAdjust="spacingAndGlyphs"><tspan font-style="italic">p</tspan>=0.005</text>
<line x1="635.0" y1="195.4" x2="635.0" y2="200.4" stroke="#2e2e2e" stroke-width="1"/>
<text x="635.0" y="211.0" font-size="8.6" font-weight="bold" text-anchor="middle">HC</text>
<line x1="717.8" y1="195.4" x2="717.8" y2="200.4" stroke="#2e2e2e" stroke-width="1"/>
<text x="717.8" y="211.0" font-size="8.6" font-weight="bold" text-anchor="middle">ADHD</text>
<text transform="translate(559.9,104.3) rotate(-90)" font-size="8.7" font-weight="bold" textLength="142.0" lengthAdjust="spacingAndGlyphs" x="-71.0" y="0">Dynamic average of ReHo value</text>
<text transform="translate(568.0,104.3) rotate(-90)" font-size="8.7" font-weight="bold" textLength="131.5" lengthAdjust="spacingAndGlyphs" x="-65.8" y="0">in left superior parietal cluster</text>
<text x="767.7" y="26.2" font-size="8.2" font-weight="bold" textLength="31.1" lengthAdjust="spacingAndGlyphs">GRIN2B</text>
<text x="761.7" y="34.2" font-size="8.2" font-weight="bold" textLength="42.2" lengthAdjust="spacingAndGlyphs">rs2284411</text>
<rect x="768.9" y="41.7" width="6.4" height="6.4" fill="#3a59b6" stroke="#2a3a70" stroke-width="0.6"/>
<text x="777.1" y="48.1" font-size="6.9" font-weight="bold" textLength="9.9" lengthAdjust="spacingAndGlyphs">CC</text>
<rect x="768.9" y="51.5" width="6.4" height="6.4" fill="#f0323c" stroke="#8a2028" stroke-width="0.6"/>
<text x="777.1" y="57.9" font-size="6.9" font-weight="bold" textLength="19.5" lengthAdjust="spacingAndGlyphs">TC/TT</text>
<rect x="598.9" y="259.3" width="160.0" height="179.9" fill="#fff" stroke="#2e2e2e" stroke-width="1.2"/>
<line x1="592.9" y1="268.3" x2="598.9" y2="268.3" stroke="#2e2e2e" stroke-width="1"/>
<text x="592.1" y="271.3" font-size="8.4" font-weight="bold" text-anchor="end">4.0</text>
<line x1="592.9" y1="300.7" x2="598.9" y2="300.7" stroke="#2e2e2e" stroke-width="1"/>
<text x="592.1" y="303.7" font-size="8.4" font-weight="bold" text-anchor="end">3.0</text>
<line x1="592.9" y1="333.1" x2="598.9" y2="333.1" stroke="#2e2e2e" stroke-width="1"/>
<text x="592.1" y="336.1" font-size="8.4" font-weight="bold" text-anchor="end">2.0</text>
<line x1="592.9" y1="365.4" x2="598.9" y2="365.4" stroke="#2e2e2e" stroke-width="1"/>
<text x="592.1" y="368.4" font-size="8.4" font-weight="bold" text-anchor="end">1.0</text>
<line x1="592.9" y1="397.7" x2="598.9" y2="397.7" stroke="#2e2e2e" stroke-width="1"/>
<text x="592.1" y="400.7" font-size="8.4" font-weight="bold" text-anchor="end">0.0</text>
<line x1="592.9" y1="430.0" x2="598.9" y2="430.0" stroke="#2e2e2e" stroke-width="1"/>
<text x="592.1" y="433.0" font-size="8.4" font-weight="bold" text-anchor="end">-1.0</text>
<path d="M622.5,325.2V364.2M622.5,391.2V417.5M619.4,325.2H625.6M619.4,417.5H625.6" stroke="#4a4a4a" stroke-width="1.15" fill="none"/>
<rect x="616.3" y="364.2" width="12.3" height="27.0" fill="#3a59b6" stroke="#2a3a70" stroke-width="0.7"/>
<line x1="616.3" y1="381.4" x2="628.6" y2="381.4" stroke="#111" stroke-width="1.1"/>
<path d="M653.1,356.4V356.4M653.1,377.4V387.3M650.0,356.4H656.2M650.0,387.3H656.2" stroke="#4a4a4a" stroke-width="1.15" fill="none"/>
<rect x="647.0" y="356.4" width="12.3" height="21.0" fill="#f0323c" stroke="#8a2028" stroke-width="0.7"/>
<line x1="647.0" y1="367.6" x2="659.3" y2="367.6" stroke="#111" stroke-width="1.1"/>
<path d="M705.4,352.5V375.9M705.4,393.4V413.6M702.2,352.5H708.5M702.2,413.6H708.5" stroke="#4a4a4a" stroke-width="1.15" fill="none"/>
<rect x="699.2" y="375.9" width="12.3" height="17.5" fill="#3a59b6" stroke="#2a3a70" stroke-width="0.7"/>
<line x1="699.2" y1="385.1" x2="711.5" y2="385.1" stroke="#111" stroke-width="1.1"/>
<path d="M735.8,366.0V375.2M735.8,404.4V413.1M732.7,366.0H738.9M732.7,413.1H738.9" stroke="#4a4a4a" stroke-width="1.15" fill="none"/>
<rect x="729.7" y="375.2" width="12.2" height="29.2" fill="#f0323c" stroke="#8a2028" stroke-width="0.7"/>
<line x1="729.7" y1="390.6" x2="741.9" y2="390.6" stroke="#111" stroke-width="1.1"/>
<circle cx="652.9" cy="300.6" r="1.5" fill="#fff" stroke="#111" stroke-width="1"/>
<circle cx="705.2" cy="346.7" r="1.5" fill="#fff" stroke="#111" stroke-width="1"/>
<text x="705.2" y="323.9" font-size="5.6" text-anchor="middle" style="stroke:none;font-family:'DejaVu Sans',sans-serif">&#9733;</text>
<path d="M654.2,285.1V279.8H734.0V285.1" stroke="#161616" stroke-width="1.4" stroke-linejoin="round" fill="none"/>
<path d="M653.6,296.7V292.3H701.8V296.7" stroke="#161616" stroke-width="1.4" stroke-linejoin="round" fill="none"/>
<path d="M627.3,420.6V428.0H734.9V420.6" stroke="#161616" stroke-width="1.4" stroke-linejoin="round" fill="none"/>
<text x="680.5" y="277.2" font-size="9.2" textLength="32.3" lengthAdjust="spacingAndGlyphs"><tspan font-style="italic">p</tspan>=0.001</text>
<text x="663.0" y="289.5" font-size="9.2" textLength="33.8" lengthAdjust="spacingAndGlyphs"><tspan font-style="italic">p</tspan>=0.002</text>
<text x="665.2" y="436.6" font-size="9.2" textLength="32.2" lengthAdjust="spacingAndGlyphs"><tspan font-style="italic">p</tspan>=0.001</text>
<line x1="637.6" y1="439.2" x2="637.6" y2="444.2" stroke="#2e2e2e" stroke-width="1"/>
<text x="637.6" y="454.8" font-size="8.6" font-weight="bold" text-anchor="middle">HC</text>
<line x1="720.7" y1="439.2" x2="720.7" y2="444.2" stroke="#2e2e2e" stroke-width="1"/>
<text x="720.7" y="454.8" font-size="8.6" font-weight="bold" text-anchor="middle">ADHD</text>
<text transform="translate(562.2,348.0) rotate(-90)" font-size="8.7" font-weight="bold" textLength="119.0" lengthAdjust="spacingAndGlyphs" x="-59.5" y="0">Dynamic SD of ReHo value</text>
<text transform="translate(570.3,348.2) rotate(-90)" font-size="8.7" font-weight="bold" textLength="138.6" lengthAdjust="spacingAndGlyphs" x="-69.3" y="0">in right superior parietal cluster</text>
<text x="763.8" y="270.4" font-size="8.2" font-weight="bold" textLength="53.1" lengthAdjust="spacingAndGlyphs">DRD4 VNTR2</text>
<text x="760.6" y="277.7" font-size="8.2" font-weight="bold" textLength="59.2" lengthAdjust="spacingAndGlyphs">Polymorphism</text>
<rect x="773.2" y="285.4" width="6.4" height="6.4" fill="#3a59b6" stroke="#2a3a70" stroke-width="0.6"/>
<text x="781.3" y="291.9" font-size="6.9" font-weight="bold" textLength="23.7" lengthAdjust="spacingAndGlyphs">Absent</text>
<rect x="773.2" y="295.3" width="6.4" height="6.4" fill="#f0323c" stroke="#8a2028" stroke-width="0.6"/>
<text x="781.3" y="301.8" font-size="6.9" font-weight="bold" textLength="25.7" lengthAdjust="spacingAndGlyphs">Present</text>
<path d="M53.0,502.9H799.6M60.6,502.9V616.2H791.6V502.9" stroke="#2a2a2a" stroke-width="1.1" fill="none"/>
<path d="M60.6,496.7V502.9M60.6,616.2V623.4" stroke="#2a2a2a" stroke-width="1" fill="none"/>
<text x="60.0" y="633.6" font-size="10.6" text-anchor="middle">0</text>
<path d="M141.8,496.7V502.9M141.8,616.2V623.4" stroke="#2a2a2a" stroke-width="1" fill="none"/>
<text x="142.4" y="633.6" font-size="10.6" text-anchor="middle">60</text>
<path d="M223.0,496.7V502.9M223.0,616.2V623.4" stroke="#2a2a2a" stroke-width="1" fill="none"/>
<text x="223.6" y="633.6" font-size="10.6" text-anchor="middle">120</text>
<path d="M304.3,496.7V502.9M304.3,616.2V623.4" stroke="#2a2a2a" stroke-width="1" fill="none"/>
<text x="304.9" y="633.6" font-size="10.6" text-anchor="middle">180</text>
<path d="M385.5,496.7V502.9M385.5,616.2V623.4" stroke="#2a2a2a" stroke-width="1" fill="none"/>
<text x="386.1" y="633.6" font-size="10.6" text-anchor="middle">240</text>
<path d="M466.7,496.7V502.9M466.7,616.2V623.4" stroke="#2a2a2a" stroke-width="1" fill="none"/>
<text x="467.3" y="633.6" font-size="10.6" text-anchor="middle">300</text>
<path d="M547.9,496.7V502.9M547.9,616.2V623.4" stroke="#2a2a2a" stroke-width="1" fill="none"/>
<text x="548.5" y="633.6" font-size="10.6" text-anchor="middle">360</text>
<path d="M629.2,496.7V502.9M629.2,616.2V623.4" stroke="#2a2a2a" stroke-width="1" fill="none"/>
<text x="629.8" y="633.6" font-size="10.6" text-anchor="middle">420</text>
<path d="M710.4,496.7V502.9M710.4,616.2V623.4" stroke="#2a2a2a" stroke-width="1" fill="none"/>
<text x="711.0" y="633.6" font-size="10.6" text-anchor="middle">480</text>
<path d="M791.6,496.7V502.9M791.6,616.2V623.4" stroke="#2a2a2a" stroke-width="1" fill="none"/>
<text x="792.2" y="633.6" font-size="10.6" text-anchor="middle">540</text>
<text x="51.2" y="506.3" font-size="9.5" text-anchor="end">0.30</text>
<path d="M53.0,521.9H60.6M791.6,521.9H799.6" stroke="#2a2a2a" stroke-width="1" fill="none"/>
<text x="51.2" y="525.3" font-size="9.5" text-anchor="end">0.28</text>
<path d="M53.0,540.9H60.6M791.6,540.9H799.6" stroke="#2a2a2a" stroke-width="1" fill="none"/>
<text x="51.2" y="544.3" font-size="9.5" text-anchor="end">0.26</text>
<path d="M53.0,559.8H60.6M791.6,559.8H799.6" stroke="#2a2a2a" stroke-width="1" fill="none"/>
<text x="51.2" y="563.2" font-size="9.5" text-anchor="end">0.24</text>
<path d="M53.0,578.8H60.6M791.6,578.8H799.6" stroke="#2a2a2a" stroke-width="1" fill="none"/>
<text x="51.2" y="582.2" font-size="9.5" text-anchor="end">0.22</text>
<path d="M53.0,597.8H60.6M791.6,597.8H799.6" stroke="#2a2a2a" stroke-width="1" fill="none"/>
<text x="51.2" y="601.2" font-size="9.5" text-anchor="end">0.20</text>
<text transform="translate(10.2,604.2) rotate(-90)" font-size="11.4" textLength="105" lengthAdjust="spacing">Average ReHo value</text>
<text transform="translate(21.7,604.2) rotate(-90)" font-size="11.4" textLength="94.2" lengthAdjust="spacing">within 66 seconds</text>
<text x="729.2" y="651" font-size="10.9" textLength="73.1" lengthAdjust="spacing" xml:space="preserve">Time,  seconds</text>
<path d="M64.5,602.1C65.2,601.9 68.9,600.7 70.3,600.3C71.7,599.9 75.3,598.6 76.7,598.5C78.1,598.4 80.6,599.7 81.9,599.6C83.2,599.5 86.6,598.0 88.2,597.3C89.8,596.6 94.3,594.3 95.9,593.9C97.5,593.5 100.7,593.5 102.3,593.9C103.9,594.3 108.4,596.7 110.0,597.0C111.6,597.3 114.9,596.1 116.4,596.2C117.9,596.3 121.5,597.9 122.8,597.8C124.1,597.7 126.6,596.0 127.9,595.2C129.2,594.4 132.5,591.2 134.3,590.6C136.1,590.0 141.0,590.5 143.2,590.1C145.4,589.7 151.1,587.4 153.5,587.0C155.9,586.6 161.3,586.9 163.7,586.8C166.1,586.7 171.8,585.6 173.9,585.8C176.0,586.0 179.8,587.9 181.6,588.3C183.4,588.7 187.7,589.4 189.3,589.3C190.9,589.2 194.2,587.9 195.7,587.5C197.2,587.1 200.7,586.6 202.1,586.3C203.5,586.0 206.2,585.7 207.7,585.0C209.2,584.3 213.4,580.9 215.3,580.6C217.2,580.3 222.2,581.9 224.3,582.4C226.4,582.9 231.7,584.3 233.3,584.5C234.9,584.7 236.8,583.5 238.4,583.7C240.0,583.9 245.5,586.1 247.3,586.3C249.1,586.5 252.2,585.6 253.7,585.8C255.2,586.0 258.6,588.1 260.1,588.1C261.6,588.1 264.9,586.9 266.5,585.8C268.1,584.7 272.4,579.7 274.2,578.6C276.0,577.5 279.8,576.6 281.9,576.0C284.0,575.4 289.7,574.2 292.1,573.5C294.5,572.8 299.9,570.0 302.3,569.6C304.7,569.2 310.2,570.5 312.6,570.2C315.0,569.9 320.6,567.9 322.8,567.1C325.0,566.3 329.9,563.5 331.7,563.2C333.5,562.9 336.8,564.2 338.1,564.5C339.4,564.8 341.9,565.9 343.2,565.8C344.5,565.7 347.8,563.6 349.6,564.0C351.4,564.4 356.7,569.2 358.6,569.6C360.5,570.0 364.5,567.6 366.3,567.1C368.1,566.6 372.1,565.6 373.9,565.3C375.7,565.0 380.1,564.8 381.6,564.5C383.1,564.2 385.2,562.5 386.7,562.7C388.2,562.9 392.6,565.9 394.4,566.6C396.2,567.3 400.4,568.4 402.1,569.1C403.8,569.8 407.5,570.9 409.0,572.2C410.5,573.5 413.8,578.5 415.3,579.9C416.8,581.3 419.9,584.7 421.7,584.5C423.5,584.3 428.8,578.4 430.7,577.8C432.6,577.2 436.6,579.2 438.4,579.1C440.2,579.0 444.1,576.6 446.0,576.8C447.9,577.0 453.2,580.2 455.0,580.6C456.8,581.0 459.9,579.4 461.4,579.9C462.9,580.4 466.2,584.3 467.8,585.0C469.4,585.7 473.6,586.1 475.5,585.8C477.4,585.5 482.2,583.1 484.4,582.4C486.6,581.7 492.4,580.3 494.6,579.4C496.8,578.5 501.5,575.6 503.6,574.8C505.7,574.0 510.4,573.0 512.6,572.7C514.8,572.4 520.7,571.9 522.8,572.2C524.9,572.5 528.6,574.8 530.5,575.5C532.4,576.2 537.6,577.8 539.4,578.1C541.2,578.4 544.3,577.9 545.8,578.1C547.3,578.3 550.7,580.7 552.2,579.9C553.7,579.1 557.1,572.6 558.6,570.9C560.1,569.2 563.2,565.7 565.0,565.3C566.8,564.9 571.8,566.7 573.9,567.1C576.0,567.5 580.8,569.2 582.9,569.1C585.0,569.0 589.7,566.9 591.8,566.6C593.9,566.3 598.6,566.4 600.8,566.6C603.0,566.8 608.9,568.4 611.0,567.9C613.1,567.4 616.6,562.8 618.7,562.0C620.8,561.2 627.0,560.6 628.9,560.7C630.8,560.8 633.8,562.0 635.3,563.2C636.8,564.4 640.1,569.0 641.7,570.9C643.3,572.8 647.6,578.7 649.4,579.4C651.2,580.1 655.1,577.7 657.0,577.3C658.9,576.9 663.8,576.4 666.0,576.0C668.2,575.6 674.3,573.3 676.2,573.5C678.1,573.7 681.1,577.1 682.6,577.3C684.1,577.5 687.2,575.3 689.0,575.5C690.8,575.7 696.2,577.5 698.0,578.6C699.8,579.7 703.1,583.4 704.4,585.0C705.7,586.6 708.5,590.9 709.5,591.9C710.5,592.9 712.0,593.6 713.3,593.4C714.6,593.2 719.1,590.4 721.0,590.1C722.9,589.8 728.1,590.5 729.9,590.9C731.7,591.3 734.8,593.2 736.3,593.9C737.8,594.6 742.0,596.6 742.7,597.0" fill="none" stroke="#ffa45c" stroke-width="1.9" stroke-linejoin="round" stroke-linecap="round"/>
<path d="M64.5,556.3C65.0,556.4 67.7,556.4 69.1,557.4C70.5,558.4 75.2,563.7 76.7,564.5C78.2,565.3 80.9,564.3 81.9,564.0C83.0,563.7 84.8,562.2 85.7,562.0C86.6,561.8 87.9,563.0 89.5,562.5C91.1,562.0 97.7,558.2 99.8,557.4C101.9,556.6 105.8,556.2 107.4,555.6C109.0,555.0 112.2,552.8 113.8,552.2C115.4,551.6 119.6,550.6 121.5,550.7C123.4,550.8 128.6,552.5 130.5,553.0C132.4,553.5 136.0,554.1 138.1,554.8C140.2,555.5 146.6,558.8 148.4,559.4C150.2,560.0 152.0,559.3 153.5,559.9C155.0,560.5 159.5,564.3 161.1,564.5C162.7,564.7 166.1,562.4 167.5,562.0C168.9,561.6 171.4,560.5 172.7,560.7C174.0,560.9 177.4,563.5 179.0,564.0C180.6,564.5 185.1,564.7 186.7,565.0C188.3,565.3 191.3,566.4 193.1,566.3C194.9,566.2 200.2,564.8 202.1,564.5C204.0,564.2 206.6,563.4 209.0,563.8C211.4,564.2 220.0,566.9 223.0,567.6C226.0,568.3 232.1,570.1 234.5,569.6C236.9,569.1 241.7,564.1 243.5,563.2C245.3,562.3 248.0,561.5 249.9,561.5C251.8,561.5 258.0,563.1 260.1,563.2C262.2,563.3 266.2,561.5 267.8,562.0C269.4,562.5 272.6,565.5 274.2,567.1C275.8,568.7 279.8,573.5 281.9,575.3C284.0,577.1 289.7,582.5 292.1,582.9C294.5,583.3 299.9,579.7 302.3,578.6C304.7,577.5 310.4,574.5 312.6,573.5C314.8,572.5 319.4,569.8 321.5,569.6C323.6,569.4 328.3,571.0 330.5,571.7C332.7,572.4 338.6,575.6 340.7,576.0C342.8,576.4 346.6,575.9 348.4,575.5C350.2,575.1 354.2,573.1 356.0,573.0C357.8,572.9 361.6,574.5 363.7,574.8C365.8,575.1 371.7,576.0 373.9,575.5C376.1,575.0 381.0,570.7 382.9,570.4C384.8,570.1 389.0,572.5 390.6,572.7C392.2,572.9 395.4,571.7 397.0,571.7C398.6,571.7 403.1,572.5 404.6,572.7C406.1,572.9 408.2,573.5 410.2,573.5C412.2,573.5 419.3,572.5 421.7,572.7C424.1,572.9 428.5,575.0 430.7,574.8C432.9,574.6 438.5,573.0 440.9,570.9C443.3,568.8 448.8,559.6 451.2,556.9C453.6,554.2 459.3,548.8 461.4,547.9C463.5,547.0 467.3,548.8 469.1,549.2C470.9,549.6 475.1,551.3 476.7,551.7C478.3,552.1 481.5,552.9 483.1,552.5C484.7,552.1 488.6,549.1 490.8,548.4C493.0,547.7 499.9,546.2 502.3,546.1C504.7,546.0 509.2,548.0 511.3,547.9C513.4,547.8 517.8,545.7 520.2,545.3C522.6,544.9 529.3,544.2 531.7,544.8C534.1,545.4 538.5,549.0 540.7,550.5C542.9,552.0 549.0,556.5 550.9,557.4C552.8,558.3 555.5,558.8 557.3,558.6C559.1,558.4 564.2,555.8 566.3,555.6C568.4,555.4 573.3,556.1 575.2,556.9C577.1,557.7 581.1,561.8 582.9,562.7C584.7,563.6 588.8,564.9 590.6,565.0C592.4,565.1 596.6,563.7 598.2,563.8C599.8,563.9 603.1,565.7 604.6,565.8C606.1,565.9 609.4,565.0 611.0,565.0C612.6,565.0 616.6,565.3 618.7,565.8C620.8,566.3 626.8,568.9 628.9,568.9C631.0,568.9 634.8,566.1 636.6,565.8C638.4,565.5 642.8,566.4 644.3,566.3C645.8,566.2 648.2,565.0 649.4,565.0C650.6,565.0 653.0,566.9 654.5,566.6C656.0,566.3 660.9,563.0 662.2,562.7C663.5,562.4 664.5,564.5 666.0,563.8C667.5,563.1 673.3,557.9 674.9,556.9C676.5,555.9 678.7,555.0 680.1,555.1C681.5,555.2 684.6,557.3 686.5,557.4C688.4,557.5 694.8,555.7 696.7,555.6C698.6,555.5 701.2,557.0 703.1,556.9C705.0,556.8 711.1,555.5 713.3,554.8C715.5,554.1 720.7,551.1 722.3,550.5C723.9,549.9 726.4,549.8 727.4,549.9C728.4,550.0 729.9,552.2 731.2,551.7C732.5,551.2 737.6,546.1 738.9,545.3C740.2,544.5 742.3,544.9 742.7,544.8" fill="none" stroke="#0a0af0" stroke-width="1.9" stroke-linejoin="round" stroke-linecap="round"/>
<path d="M64.5,568.4C65.3,568.8 69.7,571.1 71.6,571.7C73.5,572.3 78.7,572.8 80.6,573.5C82.5,574.2 86.7,577.4 88.2,578.1C89.7,578.8 92.2,579.2 93.4,579.9C94.6,580.6 97.2,582.2 98.5,583.7C99.8,585.2 103.3,590.6 104.9,592.7C106.5,594.8 111.0,600.9 112.5,601.6C114.0,602.3 116.7,598.8 117.7,598.5C118.8,598.2 120.5,598.7 121.5,599.0C122.5,599.3 125.3,601.4 126.6,601.4C127.9,601.4 131.4,599.5 133.0,599.0C134.6,598.5 139.2,598.5 140.7,597.3C142.2,596.1 144.6,590.8 145.8,588.8C147.0,586.8 149.7,581.3 150.9,579.9C152.1,578.5 154.5,577.0 156.0,576.5C157.5,576.0 162.1,576.4 163.7,575.5C165.3,574.6 168.6,569.8 170.1,568.4C171.6,567.0 174.9,564.3 176.5,563.8C178.1,563.3 182.7,563.7 184.2,563.8C185.7,563.9 187.7,565.6 189.3,565.0C190.9,564.4 196.4,559.2 198.2,558.6C200.0,558.0 203.5,559.7 204.6,559.9C205.7,560.1 206.1,560.0 207.7,560.2C209.3,560.4 215.7,561.9 217.9,561.5C220.1,561.1 225.1,557.2 226.9,556.9C228.7,556.6 231.5,557.4 233.3,558.9C235.1,560.4 240.1,569.2 242.2,569.6C244.3,570.0 249.1,562.4 251.2,562.0C253.3,561.6 257.7,565.7 260.1,565.8C262.5,565.9 269.2,564.3 271.6,563.2C274.0,562.1 278.7,556.8 280.6,556.3C282.5,555.8 286.4,558.4 288.2,558.6C290.0,558.8 294.1,557.9 295.9,558.1C297.7,558.3 302.0,559.7 303.6,559.9C305.2,560.1 308.5,558.9 310.0,559.4C311.5,559.9 314.9,563.5 316.4,564.0C317.9,564.5 321.0,564.6 322.8,564.0C324.6,563.4 329.8,559.1 331.7,558.6C333.6,558.1 337.8,559.5 339.4,559.4C341.0,559.3 344.3,557.0 345.8,557.6C347.3,558.2 350.6,562.9 352.2,564.5C353.8,566.1 358.0,570.4 359.9,571.7C361.8,573.0 367.2,575.6 368.8,576.0C370.4,576.4 372.6,576.3 373.9,575.3C375.2,574.3 378.5,568.6 380.3,567.1C382.1,565.6 387.4,562.7 389.3,562.5C391.2,562.3 395.2,565.5 397.0,565.3C398.8,565.1 403.2,561.5 404.6,560.7C406.0,559.9 407.6,559.2 409.0,558.1C410.4,557.0 414.7,551.6 416.6,551.0C418.5,550.4 423.5,552.5 425.6,553.0C427.7,553.5 432.6,555.1 434.5,555.1C436.4,555.1 440.3,554.1 442.2,553.0C444.1,551.9 449.4,546.1 451.2,545.3C453.0,544.5 456.1,545.6 457.6,546.1C459.1,546.6 462.4,549.3 463.9,549.7C465.4,550.1 468.7,548.6 470.3,549.2C471.9,549.8 476.5,554.7 478.0,555.1C479.5,555.5 481.6,553.8 483.1,553.0C484.6,552.2 488.7,548.5 490.8,547.9C492.9,547.3 498.6,547.1 501.0,547.9C503.4,548.7 509.1,554.4 511.3,554.8C513.5,555.2 518.3,551.4 520.2,551.2C522.1,551.0 525.7,551.8 527.9,553.0C530.1,554.2 537.3,560.5 539.4,561.2C541.5,561.9 544.3,560.1 545.8,559.4C547.3,558.7 550.6,554.5 552.2,554.8C553.8,555.1 558.1,561.3 559.9,562.0C561.7,562.7 566.0,560.8 567.5,560.7C569.0,560.6 570.9,561.6 572.7,561.2C574.5,560.8 580.7,556.8 582.9,556.9C585.1,557.0 589.7,562.0 591.8,562.0C593.9,562.0 598.6,556.6 600.8,556.9C603.0,557.2 609.1,564.2 611.0,564.5C612.9,564.8 615.9,560.8 617.4,559.4C618.9,558.0 622.2,553.5 623.8,552.5C625.4,551.5 629.9,551.6 631.5,551.2C633.1,550.8 636.3,549.4 637.9,549.2C639.5,549.0 643.7,550.2 645.5,549.2C647.3,548.2 651.4,542.0 653.2,541.0C655.0,540.0 659.0,540.2 660.9,540.2C662.8,540.2 667.9,541.2 669.8,540.7C671.7,540.2 676.2,536.3 677.5,535.9C678.8,535.5 680.2,536.3 681.3,537.2C682.3,538.1 685.3,542.5 686.5,543.6C687.7,544.7 690.3,546.7 691.6,546.6C692.9,546.5 696.2,544.7 698.0,542.8C699.8,540.9 705.1,532.2 706.9,530.0C708.7,527.8 712.0,524.7 713.3,523.6C714.6,522.5 716.6,520.6 717.9,520.5C719.2,520.4 722.9,522.4 724.8,523.1C726.7,523.8 732.2,525.1 733.8,526.2C735.4,527.3 737.9,531.3 738.9,532.6C739.9,533.9 742.3,537.1 742.7,537.7" fill="none" stroke="#10f010" stroke-width="1.9" stroke-linejoin="round" stroke-linecap="round"/>
<path d="M64.5,543.3C65.0,542.6 67.8,539.2 69.1,537.7C70.4,536.2 74.2,531.8 75.5,530.8C76.8,529.8 79.1,529.1 80.6,529.2C82.1,529.3 86.3,531.1 88.2,531.8C90.1,532.5 95.7,533.4 97.2,535.1C98.7,536.8 100.0,543.5 101.0,546.6C102.0,549.7 104.7,559.0 106.2,562.0C107.7,565.0 112.2,571.6 113.8,572.7C115.4,573.8 118.6,570.9 120.2,571.2C121.8,571.5 126.1,574.8 127.9,575.5C129.7,576.2 133.8,576.6 135.6,577.3C137.4,578.0 141.7,580.2 143.2,581.2C144.7,582.2 146.9,584.4 148.4,586.3C149.9,588.2 154.4,595.0 156.0,597.8C157.6,600.6 161.2,608.7 162.4,610.6C163.6,612.5 165.2,614.5 166.3,614.4C167.4,614.3 170.4,611.3 171.4,610.0C172.4,608.7 174.3,604.0 175.2,602.9C176.1,601.8 177.9,600.7 179.0,600.3C180.1,599.9 183.0,600.5 184.2,599.8C185.4,599.1 188.1,595.4 189.3,593.9C190.5,592.4 193.2,587.8 194.4,586.8C195.6,585.8 198.4,585.4 199.5,585.0C200.6,584.6 202.4,583.2 203.4,583.0C204.4,582.8 206.3,583.3 207.7,583.7C209.1,584.1 213.5,585.5 215.3,586.3C217.1,587.1 221.2,591.2 223.0,590.6C224.8,590.0 228.9,582.6 230.7,581.2C232.5,579.8 236.5,579.1 238.4,578.6C240.3,578.1 245.8,576.6 247.3,576.8C248.8,577.0 250.1,579.7 251.2,579.9C252.2,580.1 255.3,579.1 256.3,578.6C257.3,578.1 258.8,574.0 260.1,575.3C261.4,576.6 266.0,589.5 267.8,590.1C269.6,590.7 274.0,581.1 275.5,580.4C277.0,579.7 279.1,584.9 280.6,583.7C282.1,582.5 286.4,572.1 288.2,570.2C290.0,568.3 294.4,567.8 295.9,567.1C297.4,566.4 299.5,564.0 301.0,563.8C302.5,563.6 306.9,566.9 308.7,565.8C310.5,564.7 314.6,557.0 316.4,554.3C318.2,551.6 322.5,544.7 324.1,542.8C325.7,540.9 328.9,538.8 330.5,538.2C332.1,537.6 336.3,538.1 338.1,537.7C339.9,537.3 344.2,535.3 345.8,535.1C347.4,534.9 350.9,537.0 352.2,536.4C353.5,535.8 356.3,531.0 357.3,530.0C358.3,529.0 359.6,527.1 361.1,527.4C362.6,527.7 368.3,531.9 370.1,532.6C371.9,533.3 374.9,532.9 376.5,533.8C378.1,534.7 382.7,539.5 384.2,540.7C385.7,541.9 387.8,545.3 389.3,544.1C390.8,542.9 395.2,531.9 397.0,530.8C398.8,529.7 403.2,533.8 404.6,534.3C406.0,534.8 407.6,534.0 409.0,535.1C410.4,536.2 414.8,542.5 416.6,544.1C418.4,545.7 422.4,547.1 424.3,549.2C426.2,551.3 431.7,561.4 433.3,562.0C434.9,562.6 437.4,556.3 438.4,554.3C439.4,552.3 440.9,545.6 442.2,544.6C443.5,543.6 448.0,543.9 449.9,545.3C451.8,546.7 456.9,556.7 458.8,556.3C460.7,555.9 465.0,543.7 466.5,542.0C468.0,540.3 470.3,542.5 471.6,542.0C472.9,541.5 476.5,537.4 478.0,537.7C479.5,538.0 482.8,542.5 484.4,544.6C486.0,546.7 490.0,553.2 492.1,555.6C494.2,558.0 500.5,564.0 502.3,565.0C504.1,566.0 505.5,563.7 507.4,564.5C509.3,565.3 516.8,571.0 518.9,571.7C521.0,572.4 523.8,570.4 525.3,570.2C526.8,570.0 530.1,569.6 531.7,570.4C533.3,571.2 538.1,575.9 539.4,576.8C540.7,577.7 542.2,578.0 543.2,577.8C544.2,577.6 546.3,573.6 547.8,574.8C549.3,576.0 554.3,587.1 556.0,588.3C557.7,589.5 560.9,585.7 562.4,585.5C563.9,585.3 567.2,585.3 568.8,586.3C570.4,587.3 575.2,593.1 576.5,593.9C577.8,594.7 579.1,595.1 580.3,593.2C581.5,591.3 585.1,580.6 586.7,577.3C588.3,574.0 592.8,566.7 594.4,564.5C596.0,562.3 599.3,558.8 600.8,558.1C602.3,557.4 606.0,559.3 607.2,558.6C608.4,557.9 610.1,553.8 611.0,551.7C611.9,549.6 613.8,543.0 614.8,541.0C615.8,539.0 619.0,535.2 620.0,534.6C621.0,534.0 622.8,535.3 623.8,535.9C624.8,536.5 627.4,540.0 628.9,539.5C630.4,539.0 635.1,532.8 636.6,531.8C638.1,530.8 640.4,531.1 641.7,531.3C643.0,531.5 646.5,533.2 648.1,533.3C649.7,533.4 654.3,531.9 655.8,532.0C657.3,532.1 659.7,534.3 660.9,533.8C662.1,533.3 665.0,528.3 666.0,527.4C667.0,526.5 668.8,524.6 669.8,526.2C670.8,527.8 673.9,538.3 674.9,541.0C675.9,543.7 677.8,548.0 678.8,549.2C679.8,550.4 682.7,551.2 683.9,551.2C685.1,551.2 687.8,550.5 689.0,549.2C690.2,547.9 692.6,542.4 694.1,540.2C695.6,538.0 699.9,530.0 701.8,530.0C703.7,530.0 709.0,539.9 710.8,540.2C712.6,540.5 715.9,533.8 717.2,532.6C718.5,531.4 720.8,529.3 722.3,529.5C723.8,529.7 728.3,535.0 729.9,534.6C731.5,534.2 735.2,527.3 736.3,526.2C737.4,525.1 739.0,525.3 739.7,525.4C740.4,525.5 742.4,527.2 742.7,527.4" fill="none" stroke="#ff0808" stroke-width="1.9" stroke-linejoin="round" stroke-linecap="round"/>
<rect x="237.2" y="654.1" width="396.2" height="49.8" fill="#fff" stroke="#000" stroke-width="2"/>
<line x1="253.0" y1="672.0" x2="267.1" y2="672.0" stroke="#0a0af0" stroke-width="1.8"/>
<line x1="253.0" y1="687.3" x2="267.1" y2="687.3" stroke="#10f010" stroke-width="1.8"/>
<line x1="448.4" y1="672.0" x2="462.5" y2="672.0" stroke="#ffa45c" stroke-width="1.8"/>
<line x1="448.4" y1="687.3" x2="462.5" y2="687.3" stroke="#ff0808" stroke-width="1.8"/>
<text x="271.7" y="677.9" font-size="12.5" textLength="172.4" lengthAdjust="spacing">ADHD without DRD4 2-repeat</text>
<text x="271.7" y="692.4" font-size="12.5" textLength="154.0" lengthAdjust="spacing">ADHD with DRD4 2-repeat</text>
<text x="468.4" y="677.9" font-size="12.5" textLength="154.7" lengthAdjust="spacing">HC without DRD4 2-repeat</text>
<text x="468.4" y="692.4" font-size="12.5" textLength="136.8" lengthAdjust="spacing">HC with DRD4 2-repeat</text>
</svg></body></html>
